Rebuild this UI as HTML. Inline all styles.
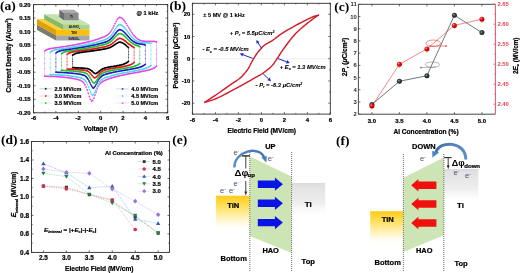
<!DOCTYPE html>
<html><head><meta charset="utf-8"><style>
html,body{margin:0;padding:0;background:#fff;width:520px;height:273px;overflow:hidden}
svg{display:block}
</style></head><body>
<svg width="520" height="273" viewBox="0 0 520 273">
<rect width="520" height="273" fill="#fff"/>
<line x1="156.5" y1="41.92" x2="156.5" y2="66.22" stroke="#e448e4" stroke-width="0.6" opacity="0.6"/>
<line x1="44.7" y1="76.15" x2="44.7" y2="51.03" stroke="#e448e4" stroke-width="0.6" opacity="0.6"/>
<circle cx="156.5" cy="49.21" r="0.55" fill="#e448e4" opacity="0.7"/>
<circle cx="156.5" cy="54.07" r="0.55" fill="#e448e4" opacity="0.7"/>
<circle cx="156.5" cy="58.93" r="0.55" fill="#e448e4" opacity="0.7"/>
<circle cx="44.7" cy="68.61" r="0.55" fill="#e448e4" opacity="0.7"/>
<circle cx="44.7" cy="63.59" r="0.55" fill="#e448e4" opacity="0.7"/>
<circle cx="44.7" cy="58.56" r="0.55" fill="#e448e4" opacity="0.7"/>
<path d="M44.7,51.03 L45.82,50.21 L46.94,49.64 L48.05,49.22 L49.17,48.91 L50.29,48.66 L51.41,48.45 L52.53,48.26 L53.64,48.09 L54.76,47.93 L55.88,47.77 L57,47.61 L58.12,47.45 L59.23,47.29 L60.35,47.13 L61.47,46.97 L62.59,46.8 L63.71,46.64 L64.82,46.47 L65.94,46.29 L67.06,46.11 L68.18,45.93 L69.3,45.75 L70.41,45.56 L71.53,45.37 L72.65,45.17 L73.77,44.97 L74.89,44.76 L76,44.55 L77.12,44.34 L78.24,44.11 L79.36,43.89 L80.48,43.66 L81.59,43.42 L82.71,43.17 L83.83,42.92 L84.95,42.66 L86.07,42.4 L87.18,42.12 L88.3,41.84 L89.42,41.56 L90.54,41.26 L91.66,40.95 L92.77,40.64 L93.89,40.32 L95.01,39.98 L96.13,39.64 L97.25,39.28 L98.36,38.92 L99.48,38.54 L100.6,38.15 L101.72,37.74 L102.84,37.3 L103.95,36.84 L105.07,36.32 L106.19,35.73 L107.31,35.03 L108.43,34.16 L109.54,33.07 L110.66,31.7 L111.78,30.02 L112.9,28.04 L114.02,25.84 L115.13,23.53 L116.25,21.31 L117.37,19.39 L118.49,17.96 L119.61,17.3 L120.72,17.53 L121.84,18.14 L122.96,19.11 L124.08,20.39 L125.2,21.92 L126.31,23.63 L127.43,25.46 L128.55,27.35 L129.67,29.23 L130.79,31.04 L131.9,32.74 L133.02,34.31 L134.14,35.71 L135.26,36.93 L136.38,37.97 L137.49,38.84 L138.61,39.55 L139.73,40.11 L140.85,40.54 L141.97,40.86 L143.08,41.09 L144.2,41.24 L145.32,41.33 L146.44,41.38 L147.56,41.39 L148.67,41.37 L149.79,41.34 L150.91,41.31 L152.03,41.29 L153.15,41.3 L154.26,41.37 L155.38,41.55 L156.5,41.92 M156.5,66.22 L155.38,67.14 L154.26,67.86 L153.15,68.44 L152.03,68.92 L150.91,69.32 L149.79,69.67 L148.67,69.98 L147.56,70.26 L146.44,70.52 L145.32,70.77 L144.2,71 L143.08,71.22 L141.97,71.44 L140.85,71.65 L139.73,71.86 L138.61,72.07 L137.49,72.27 L136.38,72.48 L135.26,72.68 L134.14,72.89 L133.02,73.09 L131.9,73.3 L130.79,73.51 L129.67,73.72 L128.55,73.93 L127.43,74.15 L126.31,74.36 L125.2,74.59 L124.08,74.82 L122.96,75.05 L121.84,75.29 L120.72,75.54 L119.61,75.79 L118.49,76.06 L117.37,76.33 L116.25,76.61 L115.13,76.91 L114.02,77.21 L112.9,77.54 L111.78,77.87 L110.66,78.22 L109.54,78.59 L108.43,78.98 L107.31,79.39 L106.19,79.83 L105.07,80.3 L103.95,80.81 L102.84,81.4 L101.72,82.14 L100.6,83.1 L99.48,84.45 L98.36,86.31 L97.25,88.77 L96.13,91.78 L95.01,95.06 L93.89,98.12 L92.77,100.46 L91.66,101.15 L90.54,99.38 L89.42,96.59 L88.3,93.27 L87.18,89.94 L86.07,87.01 L84.95,84.68 L83.83,82.98 L82.71,81.79 L81.59,80.98 L80.48,80.41 L79.36,79.99 L78.24,79.64 L77.12,79.35 L76,79.08 L74.89,78.83 L73.77,78.61 L72.65,78.4 L71.53,78.21 L70.41,78.03 L69.3,77.87 L68.18,77.71 L67.06,77.57 L65.94,77.44 L64.82,77.32 L63.71,77.21 L62.59,77.1 L61.47,77 L60.35,76.91 L59.23,76.83 L58.12,76.75 L57,76.68 L55.88,76.61 L54.76,76.55 L53.64,76.49 L52.53,76.43 L51.41,76.38 L50.29,76.34 L49.17,76.29 L48.05,76.25 L46.94,76.21 L45.82,76.18 L44.7,76.15" fill="none" stroke="#e448e4" stroke-width="0.6" stroke-linejoin="round" opacity="0.6"/>
<path d="M44.7,51.0h0M45.8,50.2h0M46.9,49.6h0M48.1,49.2h0M49.2,48.9h0M50.3,48.7h0M51.4,48.4h0M52.5,48.3h0M53.6,48.1h0M54.8,47.9h0M55.9,47.8h0M57.0,47.6h0M58.1,47.5h0M59.2,47.3h0M60.4,47.1h0M61.5,47.0h0M62.6,46.8h0M63.7,46.6h0M64.8,46.5h0M65.9,46.3h0M67.1,46.1h0M68.2,45.9h0M69.3,45.7h0M70.4,45.6h0M71.5,45.4h0M72.6,45.2h0M73.8,45.0h0M74.9,44.8h0M76.0,44.6h0M77.1,44.3h0M78.2,44.1h0M79.4,43.9h0M80.5,43.7h0M81.6,43.4h0M82.7,43.2h0M83.8,42.9h0M84.9,42.7h0M86.1,42.4h0M87.2,42.1h0M88.3,41.8h0M89.4,41.6h0M90.5,41.3h0M91.7,41.0h0M92.8,40.6h0M93.9,40.3h0M95.0,40.0h0M96.1,39.6h0M97.2,39.3h0M98.4,38.9h0M99.5,38.5h0M100.6,38.1h0M101.7,37.7h0M102.8,37.3h0M104.0,36.8h0M105.1,36.3h0M106.2,35.7h0M107.3,35.0h0M108.4,34.2h0M109.5,33.1h0M110.7,31.7h0M111.8,30.0h0M112.9,28.0h0M114.0,25.8h0M115.1,23.5h0M116.3,21.3h0M117.4,19.4h0M118.5,18.0h0M119.6,17.3h0M120.7,17.5h0M121.8,18.1h0M123.0,19.1h0M124.1,20.4h0M125.2,21.9h0M126.3,23.6h0M127.4,25.5h0M128.5,27.3h0M129.7,29.2h0M130.8,31.0h0M131.9,32.7h0M133.0,34.3h0M134.1,35.7h0M135.3,36.9h0M136.4,38.0h0M137.5,38.8h0M138.6,39.6h0M139.7,40.1h0M140.8,40.5h0M142.0,40.9h0M143.1,41.1h0M144.2,41.2h0M145.3,41.3h0M146.4,41.4h0M147.6,41.4h0M148.7,41.4h0M149.8,41.3h0M150.9,41.3h0M152.0,41.3h0M153.1,41.3h0M154.3,41.4h0M155.4,41.5h0M156.5,41.9h0M156.5,66.2h0M155.4,67.1h0M154.3,67.9h0M153.1,68.4h0M152.0,68.9h0M150.9,69.3h0M149.8,69.7h0M148.7,70.0h0M147.6,70.3h0M146.4,70.5h0M145.3,70.8h0M144.2,71.0h0M143.1,71.2h0M142.0,71.4h0M140.8,71.7h0M139.7,71.9h0M138.6,72.1h0M137.5,72.3h0M136.4,72.5h0M135.3,72.7h0M134.1,72.9h0M133.0,73.1h0M131.9,73.3h0M130.8,73.5h0M129.7,73.7h0M128.5,73.9h0M127.4,74.1h0M126.3,74.4h0M125.2,74.6h0M124.1,74.8h0M123.0,75.1h0M121.8,75.3h0M120.7,75.5h0M119.6,75.8h0M118.5,76.1h0M117.4,76.3h0M116.3,76.6h0M115.1,76.9h0M114.0,77.2h0M112.9,77.5h0M111.8,77.9h0M110.7,78.2h0M109.5,78.6h0M108.4,79.0h0M107.3,79.4h0M106.2,79.8h0M105.1,80.3h0M104.0,80.8h0M102.8,81.4h0M101.7,82.1h0M100.6,83.1h0M99.5,84.4h0M98.4,86.3h0M97.2,88.8h0M96.1,91.8h0M95.0,95.1h0M93.9,98.1h0M92.8,100.5h0M91.7,101.1h0M90.5,99.4h0M89.4,96.6h0M88.3,93.3h0M87.2,89.9h0M86.1,87.0h0M84.9,84.7h0M83.8,83.0h0M82.7,81.8h0M81.6,81.0h0M80.5,80.4h0M79.4,80.0h0M78.2,79.6h0M77.1,79.3h0M76.0,79.1h0M74.9,78.8h0M73.8,78.6h0M72.6,78.4h0M71.5,78.2h0M70.4,78.0h0M69.3,77.9h0M68.2,77.7h0M67.1,77.6h0M65.9,77.4h0M64.8,77.3h0M63.7,77.2h0M62.6,77.1h0M61.5,77.0h0M60.4,76.9h0M59.2,76.8h0M58.1,76.7h0M57.0,76.7h0M55.9,76.6h0M54.8,76.5h0M53.6,76.5h0M52.5,76.4h0M51.4,76.4h0M50.3,76.3h0M49.2,76.3h0M48.1,76.3h0M46.9,76.2h0M45.8,76.2h0M44.7,76.1h0" fill="none" stroke="#e448e4" stroke-width="1.7" stroke-linecap="round"/>
<line x1="150.91" y1="43.53" x2="150.91" y2="65.4" stroke="#50d8ea" stroke-width="0.6" opacity="0.6"/>
<line x1="50.29" y1="74.59" x2="50.29" y2="52.15" stroke="#50d8ea" stroke-width="0.6" opacity="0.6"/>
<circle cx="150.91" cy="50.09" r="0.55" fill="#50d8ea" opacity="0.7"/>
<circle cx="150.91" cy="54.47" r="0.55" fill="#50d8ea" opacity="0.7"/>
<circle cx="150.91" cy="58.84" r="0.55" fill="#50d8ea" opacity="0.7"/>
<circle cx="50.29" cy="67.86" r="0.55" fill="#50d8ea" opacity="0.7"/>
<circle cx="50.29" cy="63.37" r="0.55" fill="#50d8ea" opacity="0.7"/>
<circle cx="50.29" cy="58.89" r="0.55" fill="#50d8ea" opacity="0.7"/>
<path d="M50.29,52.15 L51.3,51.4 L52.3,50.86 L53.31,50.45 L54.31,50.14 L55.32,49.89 L56.33,49.69 L57.33,49.5 L58.34,49.34 L59.35,49.18 L60.35,49.03 L61.36,48.89 L62.36,48.74 L63.37,48.6 L64.38,48.46 L65.38,48.31 L66.39,48.17 L67.4,48.02 L68.4,47.87 L69.41,47.72 L70.41,47.56 L71.42,47.41 L72.43,47.25 L73.43,47.09 L74.44,46.92 L75.44,46.75 L76.45,46.58 L77.46,46.41 L78.46,46.23 L79.47,46.05 L80.48,45.86 L81.48,45.68 L82.49,45.48 L83.49,45.29 L84.5,45.09 L85.51,44.88 L86.51,44.67 L87.52,44.46 L88.53,44.24 L89.53,44.01 L90.54,43.79 L91.54,43.55 L92.55,43.31 L93.56,43.06 L94.56,42.81 L95.57,42.55 L96.58,42.29 L97.58,42.01 L98.59,41.74 L99.59,41.45 L100.6,41.15 L101.61,40.84 L102.61,40.52 L103.62,40.18 L104.62,39.82 L105.63,39.41 L106.64,38.95 L107.64,38.4 L108.65,37.73 L109.66,36.92 L110.66,35.94 L111.67,34.76 L112.67,33.39 L113.68,31.86 L114.69,30.24 L115.69,28.63 L116.7,27.14 L117.71,25.88 L118.71,24.96 L119.72,24.61 L120.72,24.78 L121.73,25.23 L122.74,25.92 L123.74,26.82 L124.75,27.91 L125.75,29.13 L126.76,30.45 L127.77,31.81 L128.77,33.17 L129.78,34.51 L130.79,35.78 L131.79,36.96 L132.8,38.03 L133.8,38.98 L134.81,39.81 L135.82,40.51 L136.82,41.1 L137.83,41.57 L138.84,41.95 L139.84,42.24 L140.85,42.45 L141.85,42.6 L142.86,42.7 L143.87,42.76 L144.87,42.79 L145.88,42.82 L146.89,42.84 L147.89,42.89 L148.9,42.99 L149.9,43.18 L150.91,43.53 M150.91,65.4 L149.9,66.24 L148.9,66.91 L147.89,67.46 L146.89,67.92 L145.88,68.31 L144.87,68.64 L143.87,68.94 L142.86,69.21 L141.85,69.45 L140.85,69.68 L139.84,69.9 L138.84,70.11 L137.83,70.31 L136.82,70.5 L135.82,70.69 L134.81,70.88 L133.8,71.07 L132.8,71.25 L131.79,71.43 L130.79,71.62 L129.78,71.8 L128.77,71.98 L127.77,72.17 L126.76,72.35 L125.75,72.54 L124.75,72.73 L123.74,72.93 L122.74,73.12 L121.73,73.32 L120.72,73.53 L119.72,73.74 L118.71,73.95 L117.71,74.17 L116.7,74.4 L115.69,74.64 L114.69,74.88 L113.68,75.13 L112.67,75.4 L111.67,75.67 L110.66,75.95 L109.66,76.25 L108.65,76.56 L107.64,76.89 L106.64,77.24 L105.63,77.61 L104.62,78.01 L103.62,78.47 L102.61,79.02 L101.61,79.71 L100.6,80.64 L99.59,81.89 L98.59,83.52 L97.58,85.57 L96.58,87.95 L95.57,90.43 L94.56,92.74 L93.56,94.54 L92.55,95.39 L91.54,94.2 L90.54,92.21 L89.53,89.72 L88.53,87.09 L87.52,84.65 L86.51,82.6 L85.51,81.01 L84.5,79.86 L83.49,79.05 L82.49,78.49 L81.48,78.08 L80.48,77.76 L79.47,77.49 L78.46,77.26 L77.46,77.05 L76.45,76.86 L75.44,76.68 L74.44,76.52 L73.43,76.36 L72.43,76.22 L71.42,76.08 L70.41,75.95 L69.41,75.83 L68.4,75.72 L67.4,75.62 L66.39,75.52 L65.38,75.43 L64.38,75.35 L63.37,75.27 L62.36,75.19 L61.36,75.12 L60.35,75.06 L59.35,74.99 L58.34,74.94 L57.33,74.88 L56.33,74.83 L55.32,74.79 L54.31,74.74 L53.31,74.7 L52.3,74.66 L51.3,74.62 L50.29,74.59" fill="none" stroke="#50d8ea" stroke-width="0.6" stroke-linejoin="round" opacity="0.6"/>
<path d="M50.3,52.2h0M51.3,51.4h0M52.3,50.9h0M53.3,50.5h0M54.3,50.1h0M55.3,49.9h0M56.3,49.7h0M57.3,49.5h0M58.3,49.3h0M59.3,49.2h0M60.4,49.0h0M61.4,48.9h0M62.4,48.7h0M63.4,48.6h0M64.4,48.5h0M65.4,48.3h0M66.4,48.2h0M67.4,48.0h0M68.4,47.9h0M69.4,47.7h0M70.4,47.6h0M71.4,47.4h0M72.4,47.2h0M73.4,47.1h0M74.4,46.9h0M75.4,46.8h0M76.5,46.6h0M77.5,46.4h0M78.5,46.2h0M79.5,46.0h0M80.5,45.9h0M81.5,45.7h0M82.5,45.5h0M83.5,45.3h0M84.5,45.1h0M85.5,44.9h0M86.5,44.7h0M87.5,44.5h0M88.5,44.2h0M89.5,44.0h0M90.5,43.8h0M91.5,43.6h0M92.6,43.3h0M93.6,43.1h0M94.6,42.8h0M95.6,42.6h0M96.6,42.3h0M97.6,42.0h0M98.6,41.7h0M99.6,41.4h0M100.6,41.2h0M101.6,40.8h0M102.6,40.5h0M103.6,40.2h0M104.6,39.8h0M105.6,39.4h0M106.6,38.9h0M107.6,38.4h0M108.6,37.7h0M109.7,36.9h0M110.7,35.9h0M111.7,34.8h0M112.7,33.4h0M113.7,31.9h0M114.7,30.2h0M115.7,28.6h0M116.7,27.1h0M117.7,25.9h0M118.7,25.0h0M119.7,24.6h0M120.7,24.8h0M121.7,25.2h0M122.7,25.9h0M123.7,26.8h0M124.7,27.9h0M125.8,29.1h0M126.8,30.4h0M127.8,31.8h0M128.8,33.2h0M129.8,34.5h0M130.8,35.8h0M131.8,37.0h0M132.8,38.0h0M133.8,39.0h0M134.8,39.8h0M135.8,40.5h0M136.8,41.1h0M137.8,41.6h0M138.8,41.9h0M139.8,42.2h0M140.8,42.4h0M141.9,42.6h0M142.9,42.7h0M143.9,42.8h0M144.9,42.8h0M145.9,42.8h0M146.9,42.8h0M147.9,42.9h0M148.9,43.0h0M149.9,43.2h0M150.9,43.5h0M150.9,65.4h0M149.9,66.2h0M148.9,66.9h0M147.9,67.5h0M146.9,67.9h0M145.9,68.3h0M144.9,68.6h0M143.9,68.9h0M142.9,69.2h0M141.9,69.5h0M140.8,69.7h0M139.8,69.9h0M138.8,70.1h0M137.8,70.3h0M136.8,70.5h0M135.8,70.7h0M134.8,70.9h0M133.8,71.1h0M132.8,71.3h0M131.8,71.4h0M130.8,71.6h0M129.8,71.8h0M128.8,72.0h0M127.8,72.2h0M126.8,72.4h0M125.8,72.5h0M124.7,72.7h0M123.7,72.9h0M122.7,73.1h0M121.7,73.3h0M120.7,73.5h0M119.7,73.7h0M118.7,74.0h0M117.7,74.2h0M116.7,74.4h0M115.7,74.6h0M114.7,74.9h0M113.7,75.1h0M112.7,75.4h0M111.7,75.7h0M110.7,76.0h0M109.7,76.3h0M108.6,76.6h0M107.6,76.9h0M106.6,77.2h0M105.6,77.6h0M104.6,78.0h0M103.6,78.5h0M102.6,79.0h0M101.6,79.7h0M100.6,80.6h0M99.6,81.9h0M98.6,83.5h0M97.6,85.6h0M96.6,87.9h0M95.6,90.4h0M94.6,92.7h0M93.6,94.5h0M92.6,95.4h0M91.5,94.2h0M90.5,92.2h0M89.5,89.7h0M88.5,87.1h0M87.5,84.6h0M86.5,82.6h0M85.5,81.0h0M84.5,79.9h0M83.5,79.1h0M82.5,78.5h0M81.5,78.1h0M80.5,77.8h0M79.5,77.5h0M78.5,77.3h0M77.5,77.1h0M76.5,76.9h0M75.4,76.7h0M74.4,76.5h0M73.4,76.4h0M72.4,76.2h0M71.4,76.1h0M70.4,76.0h0M69.4,75.8h0M68.4,75.7h0M67.4,75.6h0M66.4,75.5h0M65.4,75.4h0M64.4,75.3h0M63.4,75.3h0M62.4,75.2h0M61.4,75.1h0M60.4,75.1h0M59.3,75.0h0M58.3,74.9h0M57.3,74.9h0M56.3,74.8h0M55.3,74.8h0M54.3,74.7h0M53.3,74.7h0M52.3,74.7h0M51.3,74.6h0M50.3,74.6h0" fill="none" stroke="#50d8ea" stroke-width="1.7" stroke-linecap="round"/>
<line x1="145.32" y1="45.08" x2="145.32" y2="64.31" stroke="#1c1cc8" stroke-width="0.6" opacity="0.6"/>
<line x1="55.88" y1="72.19" x2="55.88" y2="52.97" stroke="#1c1cc8" stroke-width="0.6" opacity="0.6"/>
<circle cx="145.32" cy="50.85" r="0.55" fill="#1c1cc8" opacity="0.7"/>
<circle cx="145.32" cy="54.69" r="0.55" fill="#1c1cc8" opacity="0.7"/>
<circle cx="145.32" cy="58.54" r="0.55" fill="#1c1cc8" opacity="0.7"/>
<circle cx="55.88" cy="66.43" r="0.55" fill="#1c1cc8" opacity="0.7"/>
<circle cx="55.88" cy="62.58" r="0.55" fill="#1c1cc8" opacity="0.7"/>
<circle cx="55.88" cy="58.74" r="0.55" fill="#1c1cc8" opacity="0.7"/>
<path d="M55.88,52.97 L56.77,52.29 L57.67,51.78 L58.56,51.39 L59.46,51.08 L60.35,50.84 L61.25,50.63 L62.14,50.45 L63.04,50.29 L63.93,50.14 L64.82,50 L65.72,49.87 L66.61,49.74 L67.51,49.61 L68.4,49.48 L69.3,49.35 L70.19,49.22 L71.08,49.09 L71.98,48.96 L72.87,48.83 L73.77,48.69 L74.66,48.56 L75.56,48.42 L76.45,48.28 L77.35,48.14 L78.24,48 L79.13,47.85 L80.03,47.7 L80.92,47.55 L81.82,47.4 L82.71,47.24 L83.61,47.09 L84.5,46.93 L85.4,46.76 L86.29,46.6 L87.18,46.43 L88.08,46.25 L88.97,46.08 L89.87,45.9 L90.76,45.72 L91.66,45.53 L92.55,45.34 L93.44,45.15 L94.34,44.95 L95.23,44.75 L96.13,44.55 L97.02,44.34 L97.92,44.13 L98.81,43.91 L99.71,43.68 L100.6,43.45 L101.49,43.22 L102.39,42.97 L103.28,42.72 L104.18,42.45 L105.07,42.15 L105.97,41.83 L106.86,41.47 L107.76,41.04 L108.65,40.55 L109.54,39.96 L110.44,39.25 L111.33,38.43 L112.23,37.48 L113.12,36.42 L114.02,35.27 L114.91,34.09 L115.8,32.92 L116.7,31.84 L117.59,30.91 L118.49,30.19 L119.38,29.75 L120.28,29.79 L121.17,30.04 L122.07,30.46 L122.96,31.05 L123.85,31.79 L124.75,32.64 L125.64,33.58 L126.54,34.58 L127.43,35.6 L128.33,36.63 L129.22,37.63 L130.12,38.58 L131.01,39.47 L131.9,40.28 L132.8,41.01 L133.69,41.65 L134.59,42.21 L135.48,42.67 L136.38,43.06 L137.27,43.37 L138.16,43.63 L139.06,43.82 L139.95,43.98 L140.85,44.11 L141.74,44.22 L142.64,44.34 L143.53,44.5 L144.43,44.72 L145.32,45.08 M145.32,64.31 L144.43,65.05 L143.53,65.65 L142.64,66.14 L141.74,66.56 L140.85,66.91 L139.95,67.22 L139.06,67.49 L138.16,67.73 L137.27,67.95 L136.38,68.15 L135.48,68.34 L134.59,68.52 L133.69,68.69 L132.8,68.85 L131.9,69.01 L131.01,69.16 L130.12,69.32 L129.22,69.47 L128.33,69.62 L127.43,69.77 L126.54,69.92 L125.64,70.06 L124.75,70.21 L123.85,70.36 L122.96,70.52 L122.07,70.67 L121.17,70.82 L120.28,70.98 L119.38,71.14 L118.49,71.3 L117.59,71.47 L116.7,71.64 L115.8,71.82 L114.91,72 L114.02,72.18 L113.12,72.37 L112.23,72.57 L111.33,72.78 L110.44,72.99 L109.54,73.21 L108.65,73.44 L107.76,73.69 L106.86,73.94 L105.97,74.21 L105.07,74.51 L104.18,74.85 L103.28,75.24 L102.39,75.73 L101.49,76.36 L100.6,77.17 L99.71,78.22 L98.81,79.52 L97.92,81.05 L97.02,82.75 L96.13,84.48 L95.23,86.07 L94.34,87.34 L93.44,88.17 L92.55,87.5 L91.66,86.24 L90.76,84.56 L89.87,82.7 L88.97,80.86 L88.08,79.23 L87.18,77.89 L86.29,76.85 L85.4,76.09 L84.5,75.55 L83.61,75.16 L82.71,74.87 L81.82,74.64 L80.92,74.44 L80.03,74.28 L79.13,74.12 L78.24,73.98 L77.35,73.85 L76.45,73.72 L75.56,73.6 L74.66,73.49 L73.77,73.39 L72.87,73.29 L71.98,73.2 L71.08,73.11 L70.19,73.03 L69.3,72.95 L68.4,72.88 L67.51,72.81 L66.61,72.74 L65.72,72.68 L64.82,72.62 L63.93,72.57 L63.04,72.52 L62.14,72.47 L61.25,72.42 L60.35,72.38 L59.46,72.34 L58.56,72.3 L57.67,72.26 L56.77,72.23 L55.88,72.19" fill="none" stroke="#1c1cc8" stroke-width="0.6" stroke-linejoin="round" opacity="0.6"/>
<path d="M55.9,53.0h0M56.8,52.3h0M57.7,51.8h0M58.6,51.4h0M59.5,51.1h0M60.4,50.8h0M61.2,50.6h0M62.1,50.4h0M63.0,50.3h0M63.9,50.1h0M64.8,50.0h0M65.7,49.9h0M66.6,49.7h0M67.5,49.6h0M68.4,49.5h0M69.3,49.3h0M70.2,49.2h0M71.1,49.1h0M72.0,49.0h0M72.9,48.8h0M73.8,48.7h0M74.7,48.6h0M75.6,48.4h0M76.5,48.3h0M77.3,48.1h0M78.2,48.0h0M79.1,47.8h0M80.0,47.7h0M80.9,47.6h0M81.8,47.4h0M82.7,47.2h0M83.6,47.1h0M84.5,46.9h0M85.4,46.8h0M86.3,46.6h0M87.2,46.4h0M88.1,46.3h0M89.0,46.1h0M89.9,45.9h0M90.8,45.7h0M91.7,45.5h0M92.6,45.3h0M93.4,45.2h0M94.3,45.0h0M95.2,44.8h0M96.1,44.5h0M97.0,44.3h0M97.9,44.1h0M98.8,43.9h0M99.7,43.7h0M100.6,43.5h0M101.5,43.2h0M102.4,43.0h0M103.3,42.7h0M104.2,42.4h0M105.1,42.2h0M106.0,41.8h0M106.9,41.5h0M107.8,41.0h0M108.6,40.5h0M109.5,40.0h0M110.4,39.3h0M111.3,38.4h0M112.2,37.5h0M113.1,36.4h0M114.0,35.3h0M114.9,34.1h0M115.8,32.9h0M116.7,31.8h0M117.6,30.9h0M118.5,30.2h0M119.4,29.7h0M120.3,29.8h0M121.2,30.0h0M122.1,30.5h0M123.0,31.1h0M123.9,31.8h0M124.7,32.6h0M125.6,33.6h0M126.5,34.6h0M127.4,35.6h0M128.3,36.6h0M129.2,37.6h0M130.1,38.6h0M131.0,39.5h0M131.9,40.3h0M132.8,41.0h0M133.7,41.7h0M134.6,42.2h0M135.5,42.7h0M136.4,43.1h0M137.3,43.4h0M138.2,43.6h0M139.1,43.8h0M140.0,44.0h0M140.8,44.1h0M141.7,44.2h0M142.6,44.3h0M143.5,44.5h0M144.4,44.7h0M145.3,45.1h0M145.3,64.3h0M144.4,65.0h0M143.5,65.6h0M142.6,66.1h0M141.7,66.6h0M140.8,66.9h0M140.0,67.2h0M139.1,67.5h0M138.2,67.7h0M137.3,67.9h0M136.4,68.1h0M135.5,68.3h0M134.6,68.5h0M133.7,68.7h0M132.8,68.8h0M131.9,69.0h0M131.0,69.2h0M130.1,69.3h0M129.2,69.5h0M128.3,69.6h0M127.4,69.8h0M126.5,69.9h0M125.6,70.1h0M124.7,70.2h0M123.9,70.4h0M123.0,70.5h0M122.1,70.7h0M121.2,70.8h0M120.3,71.0h0M119.4,71.1h0M118.5,71.3h0M117.6,71.5h0M116.7,71.6h0M115.8,71.8h0M114.9,72.0h0M114.0,72.2h0M113.1,72.4h0M112.2,72.6h0M111.3,72.8h0M110.4,73.0h0M109.5,73.2h0M108.6,73.4h0M107.8,73.7h0M106.9,73.9h0M106.0,74.2h0M105.1,74.5h0M104.2,74.8h0M103.3,75.2h0M102.4,75.7h0M101.5,76.4h0M100.6,77.2h0M99.7,78.2h0M98.8,79.5h0M97.9,81.1h0M97.0,82.8h0M96.1,84.5h0M95.2,86.1h0M94.3,87.3h0M93.4,88.2h0M92.6,87.5h0M91.7,86.2h0M90.8,84.6h0M89.9,82.7h0M89.0,80.9h0M88.1,79.2h0M87.2,77.9h0M86.3,76.9h0M85.4,76.1h0M84.5,75.5h0M83.6,75.2h0M82.7,74.9h0M81.8,74.6h0M80.9,74.4h0M80.0,74.3h0M79.1,74.1h0M78.2,74.0h0M77.3,73.8h0M76.5,73.7h0M75.6,73.6h0M74.7,73.5h0M73.8,73.4h0M72.9,73.3h0M72.0,73.2h0M71.1,73.1h0M70.2,73.0h0M69.3,73.0h0M68.4,72.9h0M67.5,72.8h0M66.6,72.7h0M65.7,72.7h0M64.8,72.6h0M63.9,72.6h0M63.0,72.5h0M62.1,72.5h0M61.2,72.4h0M60.4,72.4h0M59.5,72.3h0M58.6,72.3h0M57.7,72.3h0M56.8,72.2h0M55.9,72.2h0" fill="none" stroke="#1c1cc8" stroke-width="1.7" stroke-linecap="round"/>
<line x1="139.73" y1="46.66" x2="139.73" y2="63.5" stroke="#22c030" stroke-width="0.6" opacity="0.6"/>
<line x1="61.47" y1="70.37" x2="61.47" y2="53.74" stroke="#22c030" stroke-width="0.6" opacity="0.6"/>
<circle cx="139.73" cy="51.72" r="0.55" fill="#22c030" opacity="0.7"/>
<circle cx="139.73" cy="55.08" r="0.55" fill="#22c030" opacity="0.7"/>
<circle cx="139.73" cy="58.45" r="0.55" fill="#22c030" opacity="0.7"/>
<circle cx="61.47" cy="65.38" r="0.55" fill="#22c030" opacity="0.7"/>
<circle cx="61.47" cy="62.06" r="0.55" fill="#22c030" opacity="0.7"/>
<circle cx="61.47" cy="58.73" r="0.55" fill="#22c030" opacity="0.7"/>
<path d="M61.47,53.74 L62.25,53.13 L63.04,52.65 L63.82,52.29 L64.6,51.99 L65.38,51.75 L66.17,51.54 L66.95,51.37 L67.73,51.21 L68.51,51.07 L69.3,50.94 L70.08,50.81 L70.86,50.69 L71.64,50.58 L72.43,50.46 L73.21,50.35 L73.99,50.23 L74.77,50.12 L75.56,50.01 L76.34,49.89 L77.12,49.78 L77.9,49.66 L78.69,49.54 L79.47,49.42 L80.25,49.3 L81.03,49.18 L81.82,49.06 L82.6,48.93 L83.38,48.8 L84.17,48.68 L84.95,48.55 L85.73,48.41 L86.51,48.28 L87.3,48.14 L88.08,48.01 L88.86,47.87 L89.64,47.72 L90.43,47.58 L91.21,47.43 L91.99,47.28 L92.77,47.13 L93.56,46.98 L94.34,46.82 L95.12,46.66 L95.9,46.5 L96.69,46.34 L97.47,46.17 L98.25,46 L99.03,45.83 L99.82,45.65 L100.6,45.47 L101.38,45.28 L102.17,45.09 L102.95,44.89 L103.73,44.69 L104.51,44.47 L105.3,44.24 L106.08,43.98 L106.86,43.7 L107.64,43.37 L108.43,43.01 L109.21,42.58 L109.99,42.08 L110.77,41.51 L111.56,40.85 L112.34,40.12 L113.12,39.31 L113.9,38.45 L114.69,37.55 L115.47,36.66 L116.25,35.81 L117.03,35.03 L117.82,34.37 L118.6,33.86 L119.38,33.54 L120.16,33.56 L120.95,33.73 L121.73,34.04 L122.51,34.48 L123.3,35.02 L124.08,35.66 L124.86,36.38 L125.64,37.14 L126.43,37.94 L127.21,38.75 L127.99,39.56 L128.77,40.34 L129.56,41.09 L130.34,41.79 L131.12,42.44 L131.9,43.03 L132.69,43.55 L133.47,44.02 L134.25,44.42 L135.03,44.78 L135.82,45.09 L136.6,45.38 L137.38,45.65 L138.16,45.94 L138.95,46.26 L139.73,46.66 M139.73,63.5 L138.95,64.14 L138.16,64.68 L137.38,65.12 L136.6,65.5 L135.82,65.83 L135.03,66.12 L134.25,66.36 L133.47,66.59 L132.69,66.79 L131.9,66.97 L131.12,67.14 L130.34,67.3 L129.56,67.45 L128.77,67.6 L127.99,67.73 L127.21,67.87 L126.43,68 L125.64,68.13 L124.86,68.25 L124.08,68.38 L123.3,68.5 L122.51,68.63 L121.73,68.75 L120.95,68.87 L120.16,69 L119.38,69.13 L118.6,69.26 L117.82,69.39 L117.03,69.52 L116.25,69.65 L115.47,69.79 L114.69,69.93 L113.9,70.07 L113.12,70.22 L112.34,70.37 L111.56,70.53 L110.77,70.69 L109.99,70.86 L109.21,71.03 L108.43,71.21 L107.64,71.4 L106.86,71.6 L106.08,71.82 L105.3,72.05 L104.51,72.32 L103.73,72.63 L102.95,73.01 L102.17,73.48 L101.38,74.07 L100.6,74.81 L99.82,75.7 L99.03,76.76 L98.25,77.94 L97.47,79.2 L96.69,80.44 L95.9,81.58 L95.12,82.52 L94.34,83.19 L93.56,82.99 L92.77,82.18 L91.99,81.05 L91.21,79.71 L90.43,78.31 L89.64,76.98 L88.86,75.81 L88.08,74.84 L87.3,74.09 L86.51,73.52 L85.73,73.11 L84.95,72.8 L84.17,72.57 L83.38,72.38 L82.6,72.23 L81.82,72.1 L81.03,71.97 L80.25,71.86 L79.47,71.76 L78.69,71.66 L77.9,71.56 L77.12,71.47 L76.34,71.39 L75.56,71.31 L74.77,71.23 L73.99,71.16 L73.21,71.09 L72.43,71.02 L71.64,70.96 L70.86,70.9 L70.08,70.84 L69.3,70.79 L68.51,70.74 L67.73,70.69 L66.95,70.64 L66.17,70.6 L65.38,70.55 L64.6,70.51 L63.82,70.48 L63.04,70.44 L62.25,70.41 L61.47,70.37" fill="none" stroke="#22c030" stroke-width="0.6" stroke-linejoin="round" opacity="0.6"/>
<path d="M61.5,53.7h0M62.3,53.1h0M63.0,52.7h0M63.8,52.3h0M64.6,52.0h0M65.4,51.7h0M66.2,51.5h0M66.9,51.4h0M67.7,51.2h0M68.5,51.1h0M69.3,50.9h0M70.1,50.8h0M70.9,50.7h0M71.6,50.6h0M72.4,50.5h0M73.2,50.3h0M74.0,50.2h0M74.8,50.1h0M75.6,50.0h0M76.3,49.9h0M77.1,49.8h0M77.9,49.7h0M78.7,49.5h0M79.5,49.4h0M80.3,49.3h0M81.0,49.2h0M81.8,49.1h0M82.6,48.9h0M83.4,48.8h0M84.2,48.7h0M84.9,48.5h0M85.7,48.4h0M86.5,48.3h0M87.3,48.1h0M88.1,48.0h0M88.9,47.9h0M89.6,47.7h0M90.4,47.6h0M91.2,47.4h0M92.0,47.3h0M92.8,47.1h0M93.6,47.0h0M94.3,46.8h0M95.1,46.7h0M95.9,46.5h0M96.7,46.3h0M97.5,46.2h0M98.3,46.0h0M99.0,45.8h0M99.8,45.6h0M100.6,45.5h0M101.4,45.3h0M102.2,45.1h0M102.9,44.9h0M103.7,44.7h0M104.5,44.5h0M105.3,44.2h0M106.1,44.0h0M106.9,43.7h0M107.6,43.4h0M108.4,43.0h0M109.2,42.6h0M110.0,42.1h0M110.8,41.5h0M111.6,40.9h0M112.3,40.1h0M113.1,39.3h0M113.9,38.4h0M114.7,37.6h0M115.5,36.7h0M116.3,35.8h0M117.0,35.0h0M117.8,34.4h0M118.6,33.9h0M119.4,33.5h0M120.2,33.6h0M120.9,33.7h0M121.7,34.0h0M122.5,34.5h0M123.3,35.0h0M124.1,35.7h0M124.9,36.4h0M125.6,37.1h0M126.4,37.9h0M127.2,38.8h0M128.0,39.6h0M128.8,40.3h0M129.6,41.1h0M130.3,41.8h0M131.1,42.4h0M131.9,43.0h0M132.7,43.6h0M133.5,44.0h0M134.3,44.4h0M135.0,44.8h0M135.8,45.1h0M136.6,45.4h0M137.4,45.7h0M138.2,45.9h0M138.9,46.3h0M139.7,46.7h0M139.7,63.5h0M138.9,64.1h0M138.2,64.7h0M137.4,65.1h0M136.6,65.5h0M135.8,65.8h0M135.0,66.1h0M134.3,66.4h0M133.5,66.6h0M132.7,66.8h0M131.9,67.0h0M131.1,67.1h0M130.3,67.3h0M129.6,67.5h0M128.8,67.6h0M128.0,67.7h0M127.2,67.9h0M126.4,68.0h0M125.6,68.1h0M124.9,68.3h0M124.1,68.4h0M123.3,68.5h0M122.5,68.6h0M121.7,68.7h0M120.9,68.9h0M120.2,69.0h0M119.4,69.1h0M118.6,69.3h0M117.8,69.4h0M117.0,69.5h0M116.3,69.7h0M115.5,69.8h0M114.7,69.9h0M113.9,70.1h0M113.1,70.2h0M112.3,70.4h0M111.6,70.5h0M110.8,70.7h0M110.0,70.9h0M109.2,71.0h0M108.4,71.2h0M107.6,71.4h0M106.9,71.6h0M106.1,71.8h0M105.3,72.1h0M104.5,72.3h0M103.7,72.6h0M102.9,73.0h0M102.2,73.5h0M101.4,74.1h0M100.6,74.8h0M99.8,75.7h0M99.0,76.8h0M98.3,77.9h0M97.5,79.2h0M96.7,80.4h0M95.9,81.6h0M95.1,82.5h0M94.3,83.2h0M93.6,83.0h0M92.8,82.2h0M92.0,81.0h0M91.2,79.7h0M90.4,78.3h0M89.6,77.0h0M88.9,75.8h0M88.1,74.8h0M87.3,74.1h0M86.5,73.5h0M85.7,73.1h0M84.9,72.8h0M84.2,72.6h0M83.4,72.4h0M82.6,72.2h0M81.8,72.1h0M81.0,72.0h0M80.3,71.9h0M79.5,71.8h0M78.7,71.7h0M77.9,71.6h0M77.1,71.5h0M76.3,71.4h0M75.6,71.3h0M74.8,71.2h0M74.0,71.2h0M73.2,71.1h0M72.4,71.0h0M71.6,71.0h0M70.9,70.9h0M70.1,70.8h0M69.3,70.8h0M68.5,70.7h0M67.7,70.7h0M66.9,70.6h0M66.2,70.6h0M65.4,70.6h0M64.6,70.5h0M63.8,70.5h0M63.0,70.4h0M62.3,70.4h0M61.5,70.4h0" fill="none" stroke="#22c030" stroke-width="1.7" stroke-linecap="round"/>
<line x1="134.14" y1="47.7" x2="134.14" y2="62.4" stroke="#e01a1a" stroke-width="0.6" opacity="0.6"/>
<line x1="67.06" y1="69.01" x2="67.06" y2="54.35" stroke="#e01a1a" stroke-width="0.6" opacity="0.6"/>
<circle cx="134.14" cy="52.11" r="0.55" fill="#e01a1a" opacity="0.7"/>
<circle cx="134.14" cy="55.05" r="0.55" fill="#e01a1a" opacity="0.7"/>
<circle cx="134.14" cy="57.99" r="0.55" fill="#e01a1a" opacity="0.7"/>
<circle cx="67.06" cy="64.61" r="0.55" fill="#e01a1a" opacity="0.7"/>
<circle cx="67.06" cy="61.68" r="0.55" fill="#e01a1a" opacity="0.7"/>
<circle cx="67.06" cy="58.75" r="0.55" fill="#e01a1a" opacity="0.7"/>
<path d="M67.06,54.35 L67.73,53.82 L68.4,53.4 L69.07,53.06 L69.74,52.78 L70.41,52.55 L71.08,52.36 L71.76,52.19 L72.43,52.05 L73.1,51.92 L73.77,51.8 L74.44,51.69 L75.11,51.58 L75.78,51.48 L76.45,51.38 L77.12,51.29 L77.79,51.2 L78.46,51.11 L79.13,51.02 L79.81,50.92 L80.48,50.83 L81.15,50.74 L81.82,50.65 L82.49,50.56 L83.16,50.47 L83.83,50.37 L84.5,50.28 L85.17,50.18 L85.84,50.09 L86.51,49.99 L87.18,49.89 L87.85,49.79 L88.53,49.69 L89.2,49.59 L89.87,49.49 L90.54,49.39 L91.21,49.28 L91.88,49.17 L92.55,49.07 L93.22,48.96 L93.89,48.85 L94.56,48.74 L95.23,48.62 L95.9,48.51 L96.58,48.39 L97.25,48.27 L97.92,48.15 L98.59,48.03 L99.26,47.91 L99.93,47.78 L100.6,47.66 L101.27,47.53 L101.94,47.4 L102.61,47.26 L103.28,47.12 L103.95,46.97 L104.62,46.82 L105.3,46.66 L105.97,46.49 L106.64,46.3 L107.31,46.09 L107.98,45.86 L108.65,45.6 L109.32,45.3 L109.99,44.97 L110.66,44.59 L111.33,44.17 L112,43.71 L112.67,43.2 L113.35,42.65 L114.02,42.08 L114.69,41.49 L115.36,40.91 L116.03,40.34 L116.7,39.81 L117.37,39.34 L118.04,38.93 L118.71,38.61 L119.38,38.41 L120.05,38.41 L120.72,38.51 L121.39,38.7 L122.07,38.97 L122.74,39.31 L123.41,39.71 L124.08,40.17 L124.75,40.67 L125.42,41.19 L126.09,41.74 L126.76,42.3 L127.43,42.85 L128.1,43.4 L128.77,43.93 L129.44,44.44 L130.12,44.93 L130.79,45.39 L131.46,45.84 L132.13,46.28 L132.8,46.72 L133.47,47.19 L134.14,47.7 M134.14,62.4 L133.47,62.97 L132.8,63.45 L132.13,63.87 L131.46,64.23 L130.79,64.54 L130.12,64.82 L129.44,65.07 L128.77,65.29 L128.1,65.49 L127.43,65.68 L126.76,65.85 L126.09,66 L125.42,66.15 L124.75,66.29 L124.08,66.42 L123.41,66.55 L122.74,66.68 L122.07,66.79 L121.39,66.91 L120.72,67.03 L120.05,67.14 L119.38,67.25 L118.71,67.36 L118.04,67.47 L117.37,67.58 L116.7,67.69 L116.03,67.8 L115.36,67.91 L114.69,68.02 L114.02,68.13 L113.35,68.24 L112.67,68.36 L112,68.47 L111.33,68.59 L110.66,68.71 L109.99,68.83 L109.32,68.96 L108.65,69.09 L107.98,69.22 L107.31,69.37 L106.64,69.51 L105.97,69.68 L105.3,69.85 L104.62,70.05 L103.95,70.28 L103.28,70.56 L102.61,70.89 L101.94,71.28 L101.27,71.75 L100.6,72.31 L99.93,72.95 L99.26,73.66 L98.59,74.42 L97.92,75.21 L97.25,75.97 L96.58,76.67 L95.9,77.26 L95.23,77.72 L94.56,77.81 L93.89,77.42 L93.22,76.81 L92.55,76.04 L91.88,75.17 L91.21,74.3 L90.54,73.47 L89.87,72.74 L89.2,72.12 L88.53,71.62 L87.85,71.24 L87.18,70.94 L86.51,70.72 L85.84,70.55 L85.17,70.42 L84.5,70.31 L83.83,70.22 L83.16,70.13 L82.49,70.06 L81.82,69.99 L81.15,69.92 L80.48,69.86 L79.81,69.8 L79.13,69.74 L78.46,69.68 L77.79,69.63 L77.12,69.58 L76.45,69.53 L75.78,69.48 L75.11,69.43 L74.44,69.39 L73.77,69.35 L73.1,69.31 L72.43,69.27 L71.76,69.23 L71.08,69.2 L70.41,69.16 L69.74,69.13 L69.07,69.1 L68.4,69.07 L67.73,69.04 L67.06,69.01" fill="none" stroke="#e01a1a" stroke-width="0.6" stroke-linejoin="round" opacity="0.6"/>
<path d="M67.1,54.3h0M67.7,53.8h0M68.4,53.4h0M69.1,53.1h0M69.7,52.8h0M70.4,52.6h0M71.1,52.4h0M71.8,52.2h0M72.4,52.0h0M73.1,51.9h0M73.8,51.8h0M74.4,51.7h0M75.1,51.6h0M75.8,51.5h0M76.5,51.4h0M77.1,51.3h0M77.8,51.2h0M78.5,51.1h0M79.1,51.0h0M79.8,50.9h0M80.5,50.8h0M81.1,50.7h0M81.8,50.7h0M82.5,50.6h0M83.2,50.5h0M83.8,50.4h0M84.5,50.3h0M85.2,50.2h0M85.8,50.1h0M86.5,50.0h0M87.2,49.9h0M87.9,49.8h0M88.5,49.7h0M89.2,49.6h0M89.9,49.5h0M90.5,49.4h0M91.2,49.3h0M91.9,49.2h0M92.6,49.1h0M93.2,49.0h0M93.9,48.8h0M94.6,48.7h0M95.2,48.6h0M95.9,48.5h0M96.6,48.4h0M97.2,48.3h0M97.9,48.2h0M98.6,48.0h0M99.3,47.9h0M99.9,47.8h0M100.6,47.7h0M101.3,47.5h0M101.9,47.4h0M102.6,47.3h0M103.3,47.1h0M104.0,47.0h0M104.6,46.8h0M105.3,46.7h0M106.0,46.5h0M106.6,46.3h0M107.3,46.1h0M108.0,45.9h0M108.6,45.6h0M109.3,45.3h0M110.0,45.0h0M110.7,44.6h0M111.3,44.2h0M112.0,43.7h0M112.7,43.2h0M113.3,42.7h0M114.0,42.1h0M114.7,41.5h0M115.4,40.9h0M116.0,40.3h0M116.7,39.8h0M117.4,39.3h0M118.0,38.9h0M118.7,38.6h0M119.4,38.4h0M120.1,38.4h0M120.7,38.5h0M121.4,38.7h0M122.1,39.0h0M122.7,39.3h0M123.4,39.7h0M124.1,40.2h0M124.7,40.7h0M125.4,41.2h0M126.1,41.7h0M126.8,42.3h0M127.4,42.9h0M128.1,43.4h0M128.8,43.9h0M129.4,44.4h0M130.1,44.9h0M130.8,45.4h0M131.5,45.8h0M132.1,46.3h0M132.8,46.7h0M133.5,47.2h0M134.1,47.7h0M134.1,62.4h0M133.5,63.0h0M132.8,63.5h0M132.1,63.9h0M131.5,64.2h0M130.8,64.5h0M130.1,64.8h0M129.4,65.1h0M128.8,65.3h0M128.1,65.5h0M127.4,65.7h0M126.8,65.8h0M126.1,66.0h0M125.4,66.2h0M124.7,66.3h0M124.1,66.4h0M123.4,66.6h0M122.7,66.7h0M122.1,66.8h0M121.4,66.9h0M120.7,67.0h0M120.1,67.1h0M119.4,67.2h0M118.7,67.4h0M118.0,67.5h0M117.4,67.6h0M116.7,67.7h0M116.0,67.8h0M115.4,67.9h0M114.7,68.0h0M114.0,68.1h0M113.3,68.2h0M112.7,68.4h0M112.0,68.5h0M111.3,68.6h0M110.7,68.7h0M110.0,68.8h0M109.3,69.0h0M108.6,69.1h0M108.0,69.2h0M107.3,69.4h0M106.6,69.5h0M106.0,69.7h0M105.3,69.9h0M104.6,70.1h0M104.0,70.3h0M103.3,70.6h0M102.6,70.9h0M101.9,71.3h0M101.3,71.8h0M100.6,72.3h0M99.9,72.9h0M99.3,73.7h0M98.6,74.4h0M97.9,75.2h0M97.2,76.0h0M96.6,76.7h0M95.9,77.3h0M95.2,77.7h0M94.6,77.8h0M93.9,77.4h0M93.2,76.8h0M92.6,76.0h0M91.9,75.2h0M91.2,74.3h0M90.5,73.5h0M89.9,72.7h0M89.2,72.1h0M88.5,71.6h0M87.9,71.2h0M87.2,70.9h0M86.5,70.7h0M85.8,70.6h0M85.2,70.4h0M84.5,70.3h0M83.8,70.2h0M83.2,70.1h0M82.5,70.1h0M81.8,70.0h0M81.1,69.9h0M80.5,69.9h0M79.8,69.8h0M79.1,69.7h0M78.5,69.7h0M77.8,69.6h0M77.1,69.6h0M76.5,69.5h0M75.8,69.5h0M75.1,69.4h0M74.4,69.4h0M73.8,69.3h0M73.1,69.3h0M72.4,69.3h0M71.8,69.2h0M71.1,69.2h0M70.4,69.2h0M69.7,69.1h0M69.1,69.1h0M68.4,69.1h0M67.7,69.0h0M67.1,69.0h0" fill="none" stroke="#e01a1a" stroke-width="1.7" stroke-linecap="round"/>
<line x1="128.55" y1="47.66" x2="128.55" y2="61.31" stroke="#000000" stroke-width="0.6" opacity="0.6"/>
<line x1="72.65" y1="67.64" x2="72.65" y2="55.19" stroke="#000000" stroke-width="0.6" opacity="0.6"/>
<circle cx="128.55" cy="51.75" r="0.55" fill="#000000" opacity="0.7"/>
<circle cx="128.55" cy="54.49" r="0.55" fill="#000000" opacity="0.7"/>
<circle cx="128.55" cy="57.22" r="0.55" fill="#000000" opacity="0.7"/>
<circle cx="72.65" cy="63.91" r="0.55" fill="#000000" opacity="0.7"/>
<circle cx="72.65" cy="61.42" r="0.55" fill="#000000" opacity="0.7"/>
<circle cx="72.65" cy="58.93" r="0.55" fill="#000000" opacity="0.7"/>
<path d="M72.65,55.19 L73.21,54.75 L73.77,54.38 L74.33,54.07 L74.89,53.82 L75.44,53.6 L76,53.42 L76.56,53.26 L77.12,53.11 L77.68,52.99 L78.24,52.88 L78.8,52.77 L79.36,52.68 L79.92,52.59 L80.48,52.5 L81.03,52.42 L81.59,52.34 L82.15,52.26 L82.71,52.19 L83.27,52.11 L83.83,52.04 L84.39,51.97 L84.95,51.89 L85.51,51.82 L86.07,51.75 L86.62,51.67 L87.18,51.6 L87.74,51.53 L88.3,51.45 L88.86,51.38 L89.42,51.31 L89.98,51.23 L90.54,51.15 L91.1,51.08 L91.66,51 L92.21,50.92 L92.77,50.85 L93.33,50.77 L93.89,50.69 L94.45,50.61 L95.01,50.52 L95.57,50.44 L96.13,50.36 L96.69,50.27 L97.25,50.19 L97.8,50.1 L98.36,50.02 L98.92,49.93 L99.48,49.84 L100.04,49.75 L100.6,49.66 L101.16,49.57 L101.72,49.48 L102.28,49.38 L102.84,49.28 L103.39,49.18 L103.95,49.08 L104.51,48.97 L105.07,48.86 L105.63,48.74 L106.19,48.62 L106.75,48.49 L107.31,48.34 L107.87,48.19 L108.43,48.01 L108.98,47.82 L109.54,47.62 L110.1,47.38 L110.66,47.13 L111.22,46.85 L111.78,46.55 L112.34,46.22 L112.9,45.88 L113.46,45.51 L114.02,45.13 L114.57,44.74 L115.13,44.35 L115.69,43.97 L116.25,43.6 L116.81,43.26 L117.37,42.95 L117.93,42.68 L118.49,42.45 L119.05,42.27 L119.61,42.2 L120.16,42.22 L120.72,42.3 L121.28,42.44 L121.84,42.62 L122.4,42.86 L122.96,43.14 L123.52,43.46 L124.08,43.82 L124.64,44.2 L125.2,44.62 L125.75,45.05 L126.31,45.52 L126.87,46 L127.43,46.51 L127.99,47.06 L128.55,47.66 M128.55,61.31 L127.99,61.8 L127.43,62.23 L126.87,62.6 L126.31,62.94 L125.75,63.24 L125.2,63.51 L124.64,63.75 L124.08,63.97 L123.52,64.17 L122.96,64.35 L122.4,64.52 L121.84,64.68 L121.28,64.83 L120.72,64.97 L120.16,65.1 L119.61,65.22 L119.05,65.34 L118.49,65.46 L117.93,65.57 L117.37,65.68 L116.81,65.78 L116.25,65.88 L115.69,65.98 L115.13,66.08 L114.57,66.18 L114.02,66.28 L113.46,66.37 L112.9,66.46 L112.34,66.56 L111.78,66.65 L111.22,66.75 L110.66,66.84 L110.1,66.94 L109.54,67.03 L108.98,67.13 L108.43,67.23 L107.87,67.33 L107.31,67.44 L106.75,67.55 L106.19,67.66 L105.63,67.79 L105.07,67.93 L104.51,68.09 L103.95,68.27 L103.39,68.47 L102.84,68.71 L102.28,68.98 L101.72,69.29 L101.16,69.64 L100.6,70.03 L100.04,70.46 L99.48,70.91 L98.92,71.37 L98.36,71.84 L97.8,72.29 L97.25,72.7 L96.69,73.06 L96.13,73.35 L95.57,73.58 L95.01,73.42 L94.45,73.14 L93.89,72.75 L93.33,72.28 L92.77,71.76 L92.21,71.24 L91.66,70.74 L91.1,70.27 L90.54,69.87 L89.98,69.53 L89.42,69.25 L88.86,69.03 L88.3,68.86 L87.74,68.72 L87.18,68.62 L86.62,68.53 L86.07,68.46 L85.51,68.41 L84.95,68.35 L84.39,68.31 L83.83,68.26 L83.27,68.22 L82.71,68.18 L82.15,68.14 L81.59,68.1 L81.03,68.06 L80.48,68.03 L79.92,68 L79.36,67.96 L78.8,67.93 L78.24,67.9 L77.68,67.87 L77.12,67.84 L76.56,67.81 L76,67.79 L75.44,67.76 L74.89,67.73 L74.33,67.71 L73.77,67.69 L73.21,67.66 L72.65,67.64" fill="none" stroke="#000000" stroke-width="0.6" stroke-linejoin="round" opacity="0.6"/>
<path d="M72.6,55.2h0M73.2,54.7h0M73.8,54.4h0M74.3,54.1h0M74.9,53.8h0M75.4,53.6h0M76.0,53.4h0M76.6,53.3h0M77.1,53.1h0M77.7,53.0h0M78.2,52.9h0M78.8,52.8h0M79.4,52.7h0M79.9,52.6h0M80.5,52.5h0M81.0,52.4h0M81.6,52.3h0M82.2,52.3h0M82.7,52.2h0M83.3,52.1h0M83.8,52.0h0M84.4,52.0h0M84.9,51.9h0M85.5,51.8h0M86.1,51.7h0M86.6,51.7h0M87.2,51.6h0M87.7,51.5h0M88.3,51.5h0M88.9,51.4h0M89.4,51.3h0M90.0,51.2h0M90.5,51.2h0M91.1,51.1h0M91.7,51.0h0M92.2,50.9h0M92.8,50.8h0M93.3,50.8h0M93.9,50.7h0M94.5,50.6h0M95.0,50.5h0M95.6,50.4h0M96.1,50.4h0M96.7,50.3h0M97.2,50.2h0M97.8,50.1h0M98.4,50.0h0M98.9,49.9h0M99.5,49.8h0M100.0,49.8h0M100.6,49.7h0M101.2,49.6h0M101.7,49.5h0M102.3,49.4h0M102.8,49.3h0M103.4,49.2h0M104.0,49.1h0M104.5,49.0h0M105.1,48.9h0M105.6,48.7h0M106.2,48.6h0M106.7,48.5h0M107.3,48.3h0M107.9,48.2h0M108.4,48.0h0M109.0,47.8h0M109.5,47.6h0M110.1,47.4h0M110.7,47.1h0M111.2,46.9h0M111.8,46.5h0M112.3,46.2h0M112.9,45.9h0M113.5,45.5h0M114.0,45.1h0M114.6,44.7h0M115.1,44.4h0M115.7,44.0h0M116.3,43.6h0M116.8,43.3h0M117.4,43.0h0M117.9,42.7h0M118.5,42.4h0M119.0,42.3h0M119.6,42.2h0M120.2,42.2h0M120.7,42.3h0M121.3,42.4h0M121.8,42.6h0M122.4,42.9h0M123.0,43.1h0M123.5,43.5h0M124.1,43.8h0M124.6,44.2h0M125.2,44.6h0M125.8,45.1h0M126.3,45.5h0M126.9,46.0h0M127.4,46.5h0M128.0,47.1h0M128.5,47.7h0M128.5,61.3h0M128.0,61.8h0M127.4,62.2h0M126.9,62.6h0M126.3,62.9h0M125.8,63.2h0M125.2,63.5h0M124.6,63.7h0M124.1,64.0h0M123.5,64.2h0M123.0,64.4h0M122.4,64.5h0M121.8,64.7h0M121.3,64.8h0M120.7,65.0h0M120.2,65.1h0M119.6,65.2h0M119.0,65.3h0M118.5,65.5h0M117.9,65.6h0M117.4,65.7h0M116.8,65.8h0M116.3,65.9h0M115.7,66.0h0M115.1,66.1h0M114.6,66.2h0M114.0,66.3h0M113.5,66.4h0M112.9,66.5h0M112.3,66.6h0M111.8,66.7h0M111.2,66.7h0M110.7,66.8h0M110.1,66.9h0M109.5,67.0h0M109.0,67.1h0M108.4,67.2h0M107.9,67.3h0M107.3,67.4h0M106.7,67.5h0M106.2,67.7h0M105.6,67.8h0M105.1,67.9h0M104.5,68.1h0M104.0,68.3h0M103.4,68.5h0M102.8,68.7h0M102.3,69.0h0M101.7,69.3h0M101.2,69.6h0M100.6,70.0h0M100.0,70.5h0M99.5,70.9h0M98.9,71.4h0M98.4,71.8h0M97.8,72.3h0M97.2,72.7h0M96.7,73.1h0M96.1,73.4h0M95.6,73.6h0M95.0,73.4h0M94.5,73.1h0M93.9,72.8h0M93.3,72.3h0M92.8,71.8h0M92.2,71.2h0M91.7,70.7h0M91.1,70.3h0M90.5,69.9h0M90.0,69.5h0M89.4,69.3h0M88.9,69.0h0M88.3,68.9h0M87.7,68.7h0M87.2,68.6h0M86.6,68.5h0M86.1,68.5h0M85.5,68.4h0M84.9,68.4h0M84.4,68.3h0M83.8,68.3h0M83.3,68.2h0M82.7,68.2h0M82.2,68.1h0M81.6,68.1h0M81.0,68.1h0M80.5,68.0h0M79.9,68.0h0M79.4,68.0h0M78.8,67.9h0M78.2,67.9h0M77.7,67.9h0M77.1,67.8h0M76.6,67.8h0M76.0,67.8h0M75.4,67.8h0M74.9,67.7h0M74.3,67.7h0M73.8,67.7h0M73.2,67.7h0M72.6,67.6h0" fill="none" stroke="#000000" stroke-width="1.7" stroke-linecap="round"/>
<g>
<polygon points="56,40.6 56,35.3 37,24.8 37,30.1" fill="#7d7a70"/>
<polygon points="56,35.3 89.5,35.3 89.5,40.6 56,40.6" fill="#a9a9a9"/>
<polygon points="56,35.3 56,29.6 37,19.1 37,24.8" fill="#dea200"/>
<polygon points="56,29.6 89.5,29.6 70.5,19.1 37,19.1" fill="#f9cf3a"/>
<polygon points="56,29.6 89.5,29.6 89.5,35.3 56,35.3" fill="#ffc000"/>
<polygon points="63,29.6 63,24.6 44.19,14.21 44.19,19.21" fill="#84b86a"/>
<polygon points="63,24.6 89.5,24.6 70.69,14.21 44.19,14.21" fill="#c3e2ae"/>
<polygon points="63,24.6 89.5,24.6 89.5,29.6 63,29.6" fill="#a8d48c"/>
<polygon points="64,13 64,20.2 59.3,17 59.3,9.8" fill="#6c6c6c"/>
<polygon points="64,13 78.6,13 73.9,9.8 59.3,9.8" fill="#ababab"/>
<polygon points="64,13 78.6,13 78.6,20.2 64,20.2" fill="#8c8c8c"/>
<text x="71.3" y="18.1" font-size="3.2" text-anchor="middle" font-weight="bold" fill="#222" font-family="'Liberation Sans', Arial, sans-serif" stroke="#222" stroke-width="0.1" >Ti</text>
<text x="74.5" y="28.2" font-size="3.3" text-anchor="middle" font-weight="bold" fill="#222" font-family="'Liberation Sans', Arial, sans-serif" stroke="#222" stroke-width="0.1" >Al:HfO<tspan font-size="2.2" dy="0.8">2</tspan></text>
<text x="74" y="33.9" font-size="3.3" text-anchor="middle" font-weight="bold" fill="#222" font-family="'Liberation Sans', Arial, sans-serif" stroke="#222" stroke-width="0.1" >TiN</text>
<text x="74" y="39.5" font-size="3.3" text-anchor="middle" font-weight="bold" fill="#222" font-family="'Liberation Sans', Arial, sans-serif" stroke="#222" stroke-width="0.1" >Si/SiO<tspan font-size="2.2" dy="0.8">2</tspan></text>
</g>
<rect x="33.5" y="4.6" width="134.2" height="108.2" fill="none" stroke="#2e2e2e" stroke-width="0.9"/>
<line x1="33.52" y1="112.8" x2="33.52" y2="110.8" stroke="#2e2e2e" stroke-width="0.7" />
<line x1="33.52" y1="4.6" x2="33.52" y2="6.6" stroke="#2e2e2e" stroke-width="0.7" />
<line x1="44.7" y1="112.8" x2="44.7" y2="111.6" stroke="#2e2e2e" stroke-width="0.7" />
<line x1="44.7" y1="4.6" x2="44.7" y2="5.8" stroke="#2e2e2e" stroke-width="0.7" />
<line x1="55.88" y1="112.8" x2="55.88" y2="110.8" stroke="#2e2e2e" stroke-width="0.7" />
<line x1="55.88" y1="4.6" x2="55.88" y2="6.6" stroke="#2e2e2e" stroke-width="0.7" />
<line x1="67.06" y1="112.8" x2="67.06" y2="111.6" stroke="#2e2e2e" stroke-width="0.7" />
<line x1="67.06" y1="4.6" x2="67.06" y2="5.8" stroke="#2e2e2e" stroke-width="0.7" />
<line x1="78.24" y1="112.8" x2="78.24" y2="110.8" stroke="#2e2e2e" stroke-width="0.7" />
<line x1="78.24" y1="4.6" x2="78.24" y2="6.6" stroke="#2e2e2e" stroke-width="0.7" />
<line x1="89.42" y1="112.8" x2="89.42" y2="111.6" stroke="#2e2e2e" stroke-width="0.7" />
<line x1="89.42" y1="4.6" x2="89.42" y2="5.8" stroke="#2e2e2e" stroke-width="0.7" />
<line x1="100.6" y1="112.8" x2="100.6" y2="110.8" stroke="#2e2e2e" stroke-width="0.7" />
<line x1="100.6" y1="4.6" x2="100.6" y2="6.6" stroke="#2e2e2e" stroke-width="0.7" />
<line x1="111.78" y1="112.8" x2="111.78" y2="111.6" stroke="#2e2e2e" stroke-width="0.7" />
<line x1="111.78" y1="4.6" x2="111.78" y2="5.8" stroke="#2e2e2e" stroke-width="0.7" />
<line x1="122.96" y1="112.8" x2="122.96" y2="110.8" stroke="#2e2e2e" stroke-width="0.7" />
<line x1="122.96" y1="4.6" x2="122.96" y2="6.6" stroke="#2e2e2e" stroke-width="0.7" />
<line x1="134.14" y1="112.8" x2="134.14" y2="111.6" stroke="#2e2e2e" stroke-width="0.7" />
<line x1="134.14" y1="4.6" x2="134.14" y2="5.8" stroke="#2e2e2e" stroke-width="0.7" />
<line x1="145.32" y1="112.8" x2="145.32" y2="110.8" stroke="#2e2e2e" stroke-width="0.7" />
<line x1="145.32" y1="4.6" x2="145.32" y2="6.6" stroke="#2e2e2e" stroke-width="0.7" />
<line x1="156.5" y1="112.8" x2="156.5" y2="111.6" stroke="#2e2e2e" stroke-width="0.7" />
<line x1="156.5" y1="4.6" x2="156.5" y2="5.8" stroke="#2e2e2e" stroke-width="0.7" />
<line x1="167.68" y1="112.8" x2="167.68" y2="110.8" stroke="#2e2e2e" stroke-width="0.7" />
<line x1="167.68" y1="4.6" x2="167.68" y2="6.6" stroke="#2e2e2e" stroke-width="0.7" />
<line x1="33.5" y1="112.8" x2="35.5" y2="112.8" stroke="#2e2e2e" stroke-width="0.7" />
<line x1="167.7" y1="112.8" x2="165.7" y2="112.8" stroke="#2e2e2e" stroke-width="0.7" />
<line x1="33.5" y1="106.04" x2="34.7" y2="106.04" stroke="#2e2e2e" stroke-width="0.7" />
<line x1="167.7" y1="106.04" x2="166.5" y2="106.04" stroke="#2e2e2e" stroke-width="0.7" />
<line x1="33.5" y1="99.28" x2="35.5" y2="99.28" stroke="#2e2e2e" stroke-width="0.7" />
<line x1="167.7" y1="99.28" x2="165.7" y2="99.28" stroke="#2e2e2e" stroke-width="0.7" />
<line x1="33.5" y1="92.51" x2="34.7" y2="92.51" stroke="#2e2e2e" stroke-width="0.7" />
<line x1="167.7" y1="92.51" x2="166.5" y2="92.51" stroke="#2e2e2e" stroke-width="0.7" />
<line x1="33.5" y1="85.75" x2="35.5" y2="85.75" stroke="#2e2e2e" stroke-width="0.7" />
<line x1="167.7" y1="85.75" x2="165.7" y2="85.75" stroke="#2e2e2e" stroke-width="0.7" />
<line x1="33.5" y1="78.99" x2="34.7" y2="78.99" stroke="#2e2e2e" stroke-width="0.7" />
<line x1="167.7" y1="78.99" x2="166.5" y2="78.99" stroke="#2e2e2e" stroke-width="0.7" />
<line x1="33.5" y1="72.23" x2="35.5" y2="72.23" stroke="#2e2e2e" stroke-width="0.7" />
<line x1="167.7" y1="72.23" x2="165.7" y2="72.23" stroke="#2e2e2e" stroke-width="0.7" />
<line x1="33.5" y1="65.46" x2="34.7" y2="65.46" stroke="#2e2e2e" stroke-width="0.7" />
<line x1="167.7" y1="65.46" x2="166.5" y2="65.46" stroke="#2e2e2e" stroke-width="0.7" />
<line x1="33.5" y1="58.7" x2="35.5" y2="58.7" stroke="#2e2e2e" stroke-width="0.7" />
<line x1="167.7" y1="58.7" x2="165.7" y2="58.7" stroke="#2e2e2e" stroke-width="0.7" />
<line x1="33.5" y1="51.94" x2="34.7" y2="51.94" stroke="#2e2e2e" stroke-width="0.7" />
<line x1="167.7" y1="51.94" x2="166.5" y2="51.94" stroke="#2e2e2e" stroke-width="0.7" />
<line x1="33.5" y1="45.18" x2="35.5" y2="45.18" stroke="#2e2e2e" stroke-width="0.7" />
<line x1="167.7" y1="45.18" x2="165.7" y2="45.18" stroke="#2e2e2e" stroke-width="0.7" />
<line x1="33.5" y1="38.41" x2="34.7" y2="38.41" stroke="#2e2e2e" stroke-width="0.7" />
<line x1="167.7" y1="38.41" x2="166.5" y2="38.41" stroke="#2e2e2e" stroke-width="0.7" />
<line x1="33.5" y1="31.65" x2="35.5" y2="31.65" stroke="#2e2e2e" stroke-width="0.7" />
<line x1="167.7" y1="31.65" x2="165.7" y2="31.65" stroke="#2e2e2e" stroke-width="0.7" />
<line x1="33.5" y1="24.89" x2="34.7" y2="24.89" stroke="#2e2e2e" stroke-width="0.7" />
<line x1="167.7" y1="24.89" x2="166.5" y2="24.89" stroke="#2e2e2e" stroke-width="0.7" />
<line x1="33.5" y1="18.12" x2="35.5" y2="18.12" stroke="#2e2e2e" stroke-width="0.7" />
<line x1="167.7" y1="18.12" x2="165.7" y2="18.12" stroke="#2e2e2e" stroke-width="0.7" />
<line x1="33.5" y1="11.36" x2="34.7" y2="11.36" stroke="#2e2e2e" stroke-width="0.7" />
<line x1="167.7" y1="11.36" x2="166.5" y2="11.36" stroke="#2e2e2e" stroke-width="0.7" />
<line x1="33.5" y1="4.6" x2="35.5" y2="4.6" stroke="#2e2e2e" stroke-width="0.7" />
<line x1="167.7" y1="4.6" x2="165.7" y2="4.6" stroke="#2e2e2e" stroke-width="0.7" />
<text x="30.6" y="114.9" font-size="5.9" text-anchor="end" font-weight="bold" fill="#000" font-family="'Liberation Sans', Arial, sans-serif" stroke="#000" stroke-width="0.22" >-0.20</text>
<text x="30.6" y="101.38" font-size="5.9" text-anchor="end" font-weight="bold" fill="#000" font-family="'Liberation Sans', Arial, sans-serif" stroke="#000" stroke-width="0.22" >-0.15</text>
<text x="30.6" y="87.85" font-size="5.9" text-anchor="end" font-weight="bold" fill="#000" font-family="'Liberation Sans', Arial, sans-serif" stroke="#000" stroke-width="0.22" >-0.10</text>
<text x="30.6" y="74.33" font-size="5.9" text-anchor="end" font-weight="bold" fill="#000" font-family="'Liberation Sans', Arial, sans-serif" stroke="#000" stroke-width="0.22" >-0.05</text>
<text x="30.6" y="60.8" font-size="5.9" text-anchor="end" font-weight="bold" fill="#000" font-family="'Liberation Sans', Arial, sans-serif" stroke="#000" stroke-width="0.22" >0.00</text>
<text x="30.6" y="47.28" font-size="5.9" text-anchor="end" font-weight="bold" fill="#000" font-family="'Liberation Sans', Arial, sans-serif" stroke="#000" stroke-width="0.22" >0.05</text>
<text x="30.6" y="33.75" font-size="5.9" text-anchor="end" font-weight="bold" fill="#000" font-family="'Liberation Sans', Arial, sans-serif" stroke="#000" stroke-width="0.22" >0.10</text>
<text x="30.6" y="20.23" font-size="5.9" text-anchor="end" font-weight="bold" fill="#000" font-family="'Liberation Sans', Arial, sans-serif" stroke="#000" stroke-width="0.22" >0.15</text>
<text x="30.6" y="6.7" font-size="5.9" text-anchor="end" font-weight="bold" fill="#000" font-family="'Liberation Sans', Arial, sans-serif" stroke="#000" stroke-width="0.22" >0.20</text>
<text x="33.52" y="120" font-size="5.9" text-anchor="middle" font-weight="bold" fill="#000" font-family="'Liberation Sans', Arial, sans-serif" stroke="#000" stroke-width="0.22" >-6</text>
<text x="55.88" y="120" font-size="5.9" text-anchor="middle" font-weight="bold" fill="#000" font-family="'Liberation Sans', Arial, sans-serif" stroke="#000" stroke-width="0.22" >-4</text>
<text x="78.24" y="120" font-size="5.9" text-anchor="middle" font-weight="bold" fill="#000" font-family="'Liberation Sans', Arial, sans-serif" stroke="#000" stroke-width="0.22" >-2</text>
<text x="100.6" y="120" font-size="5.9" text-anchor="middle" font-weight="bold" fill="#000" font-family="'Liberation Sans', Arial, sans-serif" stroke="#000" stroke-width="0.22" >0</text>
<text x="122.96" y="120" font-size="5.9" text-anchor="middle" font-weight="bold" fill="#000" font-family="'Liberation Sans', Arial, sans-serif" stroke="#000" stroke-width="0.22" >2</text>
<text x="145.32" y="120" font-size="5.9" text-anchor="middle" font-weight="bold" fill="#000" font-family="'Liberation Sans', Arial, sans-serif" stroke="#000" stroke-width="0.22" >4</text>
<text x="167.68" y="120" font-size="5.9" text-anchor="middle" font-weight="bold" fill="#000" font-family="'Liberation Sans', Arial, sans-serif" stroke="#000" stroke-width="0.22" >6</text>
<text x="100.7" y="131" font-size="6.6" text-anchor="middle" font-weight="bold" fill="#000" font-family="'Liberation Sans', Arial, sans-serif" stroke="#000" stroke-width="0.22" >Voltage (V)</text>
<text transform="translate(10.7,55.4) rotate(-90)" font-size="6.6" text-anchor="middle" font-weight="bold" fill="#000" font-family="'Liberation Sans', Arial, sans-serif" stroke="#000" stroke-width="0.22">Current Density (A/cm<tspan font-size="4.2" dy="-2.4">2</tspan><tspan dy="2.4">)</tspan></text>
<text x="136.6" y="15.3" font-size="5.6" text-anchor="start" font-weight="bold" fill="#000" font-family="'Liberation Sans', Arial, sans-serif" stroke="#000" stroke-width="0.18" >@ 1 kHz</text>
<line x1="39.4" y1="88.8" x2="51.9" y2="88.8" stroke="#000000" stroke-width="0.5" opacity="0.35"/>
<circle cx="45.7" cy="88.8" r="0.95" fill="#000000" opacity="0.85"/>
<text x="54.4" y="90.8" font-size="5.5" text-anchor="start" font-weight="bold" fill="#000" font-family="'Liberation Sans', Arial, sans-serif" stroke="#000" stroke-width="0.2" >2.5 MV/cm</text>
<line x1="39.4" y1="96" x2="51.9" y2="96" stroke="#e01a1a" stroke-width="0.5" opacity="0.35"/>
<circle cx="45.7" cy="96" r="0.95" fill="#e01a1a" opacity="0.85"/>
<text x="54.4" y="98" font-size="5.5" text-anchor="start" font-weight="bold" fill="#000" font-family="'Liberation Sans', Arial, sans-serif" stroke="#000" stroke-width="0.2" >3.0 MV/cm</text>
<line x1="39.4" y1="103" x2="51.9" y2="103" stroke="#22c030" stroke-width="0.5" opacity="0.35"/>
<circle cx="45.7" cy="103" r="0.95" fill="#22c030" opacity="0.85"/>
<text x="54.4" y="105" font-size="5.5" text-anchor="start" font-weight="bold" fill="#000" font-family="'Liberation Sans', Arial, sans-serif" stroke="#000" stroke-width="0.2" >3.5 MV/cm</text>
<line x1="116.3" y1="88.9" x2="128.8" y2="88.9" stroke="#1c1cc8" stroke-width="0.5" opacity="0.35"/>
<circle cx="122.6" cy="88.9" r="0.95" fill="#1c1cc8" opacity="0.85"/>
<text x="131.3" y="90.9" font-size="5.5" text-anchor="start" font-weight="bold" fill="#000" font-family="'Liberation Sans', Arial, sans-serif" stroke="#000" stroke-width="0.2" >4.0 MV/cm</text>
<line x1="116.3" y1="96" x2="128.8" y2="96" stroke="#50d8ea" stroke-width="0.5" opacity="0.35"/>
<circle cx="122.6" cy="96" r="0.95" fill="#50d8ea" opacity="0.85"/>
<text x="131.3" y="98" font-size="5.5" text-anchor="start" font-weight="bold" fill="#000" font-family="'Liberation Sans', Arial, sans-serif" stroke="#000" stroke-width="0.2" >4.5 MV/cm</text>
<line x1="116.3" y1="103.1" x2="128.8" y2="103.1" stroke="#e448e4" stroke-width="0.5" opacity="0.35"/>
<circle cx="122.6" cy="103.1" r="0.95" fill="#e448e4" opacity="0.85"/>
<text x="131.3" y="105.1" font-size="5.5" text-anchor="start" font-weight="bold" fill="#000" font-family="'Liberation Sans', Arial, sans-serif" stroke="#000" stroke-width="0.2" >5.0 MV/cm</text>
<text x="0.1" y="10.3" font-size="13.5" text-anchor="start" font-weight="bold" fill="#000" font-family="'Liberation Serif', 'Times New Roman', serif" >(a)</text>
<line x1="192.4" y1="58.75" x2="330.3" y2="58.75" stroke="#e6e6e6" stroke-width="0.6" />
<path d="M318.8,14.98 L318.18,15.16 L317.37,15.37 L316.39,15.64 L315.25,15.99 L313.98,16.43 L312.6,16.98 L311.12,17.62 L309.54,18.33 L307.83,19.13 L305.96,20.05 L303.88,21.1 L301.57,22.31 L298.85,23.76 L295.72,25.45 L292.39,27.28 L289.07,29.14 L285.97,30.92 L283.3,32.53 L281.09,33.97 L279.18,35.34 L277.49,36.64 L275.95,37.86 L274.46,39.01 L272.95,40.09 L271.44,41.04 L269.98,41.88 L268.59,42.64 L267.26,43.38 L265.99,44.14 L264.8,44.97 L263.7,45.86 L262.69,46.75 L261.76,47.67 L260.86,48.63 L259.97,49.65 L259.05,50.75 L258.12,51.93 L257.19,53.19 L256.27,54.5 L255.35,55.87 L254.44,57.29 L253.54,58.75 L252.63,60.32 L251.73,62.03 L250.83,63.78 L249.95,65.5 L249.08,67.11 L248.25,68.53 L247.46,69.74 L246.7,70.8 L245.97,71.75 L245.24,72.63 L244.51,73.46 L243.77,74.3 L243.07,75.09 L242.45,75.79 L241.82,76.46 L241.12,77.13 L240.26,77.88 L239.17,78.75 L237.84,79.73 L236.31,80.78 L234.63,81.9 L232.83,83.09 L230.97,84.33 L229.06,85.64 L227.08,87.04 L224.98,88.56 L222.8,90.14 L220.6,91.73 L218.42,93.28 L216.31,94.75 L214.13,96.21 L211.82,97.73 L209.54,99.2 L207.43,100.56 L205.65,101.69 L204.36,102.52" fill="none" stroke="#d41c2a" stroke-width="1.45" stroke-linejoin="round"/>
<path d="M204.36,102.52 L205.65,102.12 L207.43,101.58 L209.54,100.93 L211.82,100.19 L214.13,99.38 L216.31,98.52 L218.38,97.6 L220.46,96.6 L222.56,95.52 L224.7,94.4 L226.86,93.25 L229.06,92.08 L231.33,90.88 L233.66,89.63 L236.02,88.34 L238.38,87.05 L240.71,85.77 L242.97,84.53 L245.21,83.28 L247.47,82.02 L249.69,80.76 L251.83,79.55 L253.82,78.43 L255.61,77.41 L257.13,76.57 L258.41,75.88 L259.55,75.28 L260.64,74.67 L261.74,74 L262.96,73.19 L264.32,72.23 L265.75,71.18 L267.21,70.05 L268.64,68.89 L270,67.7 L271.23,66.53 L272.3,65.37 L273.24,64.22 L274.1,63.06 L274.94,61.84 L275.81,60.57 L276.75,59.19 L277.71,57.76 L278.65,56.29 L279.61,54.75 L280.65,53.11 L281.83,51.35 L283.18,49.42 L284.77,47.23 L286.56,44.78 L288.47,42.21 L290.45,39.63 L292.43,37.18 L294.33,34.97 L296.18,33.02 L298.05,31.21 L299.91,29.52 L301.74,27.93 L303.52,26.42 L305.24,24.98 L306.93,23.57 L308.61,22.24 L310.25,20.98 L311.79,19.82 L313.2,18.77 L314.43,17.87 L315.49,17.11 L316.41,16.48 L317.19,15.98 L317.85,15.57 L318.38,15.24 L318.8,14.98" fill="none" stroke="#d41c2a" stroke-width="1.45" stroke-linejoin="round"/>
<rect x="192.4" y="3.3" width="137.9" height="110.8" fill="none" stroke="#2e2e2e" stroke-width="0.9"/>
<line x1="192.41" y1="114.1" x2="192.41" y2="112.1" stroke="#2e2e2e" stroke-width="0.7" />
<line x1="192.41" y1="3.3" x2="192.41" y2="5.3" stroke="#2e2e2e" stroke-width="0.7" />
<line x1="203.9" y1="114.1" x2="203.9" y2="112.9" stroke="#2e2e2e" stroke-width="0.7" />
<line x1="203.9" y1="3.3" x2="203.9" y2="4.5" stroke="#2e2e2e" stroke-width="0.7" />
<line x1="215.39" y1="114.1" x2="215.39" y2="112.1" stroke="#2e2e2e" stroke-width="0.7" />
<line x1="215.39" y1="3.3" x2="215.39" y2="5.3" stroke="#2e2e2e" stroke-width="0.7" />
<line x1="226.88" y1="114.1" x2="226.88" y2="112.9" stroke="#2e2e2e" stroke-width="0.7" />
<line x1="226.88" y1="3.3" x2="226.88" y2="4.5" stroke="#2e2e2e" stroke-width="0.7" />
<line x1="238.37" y1="114.1" x2="238.37" y2="112.1" stroke="#2e2e2e" stroke-width="0.7" />
<line x1="238.37" y1="3.3" x2="238.37" y2="5.3" stroke="#2e2e2e" stroke-width="0.7" />
<line x1="249.86" y1="114.1" x2="249.86" y2="112.9" stroke="#2e2e2e" stroke-width="0.7" />
<line x1="249.86" y1="3.3" x2="249.86" y2="4.5" stroke="#2e2e2e" stroke-width="0.7" />
<line x1="261.35" y1="114.1" x2="261.35" y2="112.1" stroke="#2e2e2e" stroke-width="0.7" />
<line x1="261.35" y1="3.3" x2="261.35" y2="5.3" stroke="#2e2e2e" stroke-width="0.7" />
<line x1="272.84" y1="114.1" x2="272.84" y2="112.9" stroke="#2e2e2e" stroke-width="0.7" />
<line x1="272.84" y1="3.3" x2="272.84" y2="4.5" stroke="#2e2e2e" stroke-width="0.7" />
<line x1="284.33" y1="114.1" x2="284.33" y2="112.1" stroke="#2e2e2e" stroke-width="0.7" />
<line x1="284.33" y1="3.3" x2="284.33" y2="5.3" stroke="#2e2e2e" stroke-width="0.7" />
<line x1="295.82" y1="114.1" x2="295.82" y2="112.9" stroke="#2e2e2e" stroke-width="0.7" />
<line x1="295.82" y1="3.3" x2="295.82" y2="4.5" stroke="#2e2e2e" stroke-width="0.7" />
<line x1="307.31" y1="114.1" x2="307.31" y2="112.1" stroke="#2e2e2e" stroke-width="0.7" />
<line x1="307.31" y1="3.3" x2="307.31" y2="5.3" stroke="#2e2e2e" stroke-width="0.7" />
<line x1="318.8" y1="114.1" x2="318.8" y2="112.9" stroke="#2e2e2e" stroke-width="0.7" />
<line x1="318.8" y1="3.3" x2="318.8" y2="4.5" stroke="#2e2e2e" stroke-width="0.7" />
<line x1="330.29" y1="114.1" x2="330.29" y2="112.1" stroke="#2e2e2e" stroke-width="0.7" />
<line x1="330.29" y1="3.3" x2="330.29" y2="5.3" stroke="#2e2e2e" stroke-width="0.7" />
<line x1="192.4" y1="114.3" x2="193.6" y2="114.3" stroke="#2e2e2e" stroke-width="0.7" />
<line x1="330.3" y1="114.3" x2="329.1" y2="114.3" stroke="#2e2e2e" stroke-width="0.7" />
<line x1="192.4" y1="103.19" x2="194.4" y2="103.19" stroke="#2e2e2e" stroke-width="0.7" />
<line x1="330.3" y1="103.19" x2="328.3" y2="103.19" stroke="#2e2e2e" stroke-width="0.7" />
<line x1="192.4" y1="92.08" x2="193.6" y2="92.08" stroke="#2e2e2e" stroke-width="0.7" />
<line x1="330.3" y1="92.08" x2="329.1" y2="92.08" stroke="#2e2e2e" stroke-width="0.7" />
<line x1="192.4" y1="80.97" x2="194.4" y2="80.97" stroke="#2e2e2e" stroke-width="0.7" />
<line x1="330.3" y1="80.97" x2="328.3" y2="80.97" stroke="#2e2e2e" stroke-width="0.7" />
<line x1="192.4" y1="69.86" x2="193.6" y2="69.86" stroke="#2e2e2e" stroke-width="0.7" />
<line x1="330.3" y1="69.86" x2="329.1" y2="69.86" stroke="#2e2e2e" stroke-width="0.7" />
<line x1="192.4" y1="58.75" x2="194.4" y2="58.75" stroke="#2e2e2e" stroke-width="0.7" />
<line x1="330.3" y1="58.75" x2="328.3" y2="58.75" stroke="#2e2e2e" stroke-width="0.7" />
<line x1="192.4" y1="47.64" x2="193.6" y2="47.64" stroke="#2e2e2e" stroke-width="0.7" />
<line x1="330.3" y1="47.64" x2="329.1" y2="47.64" stroke="#2e2e2e" stroke-width="0.7" />
<line x1="192.4" y1="36.53" x2="194.4" y2="36.53" stroke="#2e2e2e" stroke-width="0.7" />
<line x1="330.3" y1="36.53" x2="328.3" y2="36.53" stroke="#2e2e2e" stroke-width="0.7" />
<line x1="192.4" y1="25.42" x2="193.6" y2="25.42" stroke="#2e2e2e" stroke-width="0.7" />
<line x1="330.3" y1="25.42" x2="329.1" y2="25.42" stroke="#2e2e2e" stroke-width="0.7" />
<line x1="192.4" y1="14.31" x2="194.4" y2="14.31" stroke="#2e2e2e" stroke-width="0.7" />
<line x1="330.3" y1="14.31" x2="328.3" y2="14.31" stroke="#2e2e2e" stroke-width="0.7" />
<line x1="192.4" y1="3.2" x2="193.6" y2="3.2" stroke="#2e2e2e" stroke-width="0.7" />
<line x1="330.3" y1="3.2" x2="329.1" y2="3.2" stroke="#2e2e2e" stroke-width="0.7" />
<text x="190.2" y="105.29" font-size="5.9" text-anchor="end" font-weight="bold" fill="#000" font-family="'Liberation Sans', Arial, sans-serif" stroke="#000" stroke-width="0.22" >-20</text>
<text x="190.2" y="83.07" font-size="5.9" text-anchor="end" font-weight="bold" fill="#000" font-family="'Liberation Sans', Arial, sans-serif" stroke="#000" stroke-width="0.22" >-10</text>
<text x="190.2" y="60.85" font-size="5.9" text-anchor="end" font-weight="bold" fill="#000" font-family="'Liberation Sans', Arial, sans-serif" stroke="#000" stroke-width="0.22" >0</text>
<text x="190.2" y="38.63" font-size="5.9" text-anchor="end" font-weight="bold" fill="#000" font-family="'Liberation Sans', Arial, sans-serif" stroke="#000" stroke-width="0.22" >10</text>
<text x="190.2" y="16.41" font-size="5.9" text-anchor="end" font-weight="bold" fill="#000" font-family="'Liberation Sans', Arial, sans-serif" stroke="#000" stroke-width="0.22" >20</text>
<text x="192.41" y="121.9" font-size="5.9" text-anchor="middle" font-weight="bold" fill="#000" font-family="'Liberation Sans', Arial, sans-serif" stroke="#000" stroke-width="0.22" >-6</text>
<text x="215.39" y="121.9" font-size="5.9" text-anchor="middle" font-weight="bold" fill="#000" font-family="'Liberation Sans', Arial, sans-serif" stroke="#000" stroke-width="0.22" >-4</text>
<text x="238.37" y="121.9" font-size="5.9" text-anchor="middle" font-weight="bold" fill="#000" font-family="'Liberation Sans', Arial, sans-serif" stroke="#000" stroke-width="0.22" >-2</text>
<text x="261.35" y="121.9" font-size="5.9" text-anchor="middle" font-weight="bold" fill="#000" font-family="'Liberation Sans', Arial, sans-serif" stroke="#000" stroke-width="0.22" >0</text>
<text x="284.33" y="121.9" font-size="5.9" text-anchor="middle" font-weight="bold" fill="#000" font-family="'Liberation Sans', Arial, sans-serif" stroke="#000" stroke-width="0.22" >2</text>
<text x="307.31" y="121.9" font-size="5.9" text-anchor="middle" font-weight="bold" fill="#000" font-family="'Liberation Sans', Arial, sans-serif" stroke="#000" stroke-width="0.22" >4</text>
<text x="330.29" y="121.9" font-size="5.9" text-anchor="middle" font-weight="bold" fill="#000" font-family="'Liberation Sans', Arial, sans-serif" stroke="#000" stroke-width="0.22" >6</text>
<text x="261.8" y="132.6" font-size="6.6" text-anchor="middle" font-weight="bold" fill="#000" font-family="'Liberation Sans', Arial, sans-serif" stroke="#000" stroke-width="0.22" >Electric Field (MV/cm)</text>
<text transform="translate(177.9,55.5) rotate(-90)" font-size="6.6" text-anchor="middle" font-weight="bold" fill="#000" font-family="'Liberation Sans', Arial, sans-serif" stroke="#000" stroke-width="0.22">Polarization (<tspan font-style="italic">μ</tspan>C/cm<tspan font-size="4.2" dy="-2.4">2</tspan><tspan dy="2.4">)</tspan></text>
<text x="203.2" y="17" font-size="5.7" text-anchor="start" font-weight="bold" fill="#000" font-family="'Liberation Sans', Arial, sans-serif" stroke="#000" stroke-width="0.12" >± 5 MV @ 1 kHz</text>
<line x1="261.6" y1="48.4" x2="258.11" y2="42.88" stroke="#1428c8" stroke-width="1.0" />
<polygon points="256.3,40 259.64,41.91 256.59,43.84" fill="#1428c8"/>
<line x1="252.6" y1="58.3" x2="242.99" y2="54.77" stroke="#1428c8" stroke-width="1.0" />
<polygon points="239.8,53.6 243.61,53.08 242.37,56.46" fill="#1428c8"/>
<line x1="278.1" y1="58.6" x2="286.62" y2="61.8" stroke="#1428c8" stroke-width="1.0" />
<polygon points="289.8,63 285.98,63.49 287.25,60.12" fill="#1428c8"/>
<line x1="263.2" y1="73.9" x2="268.52" y2="78.88" stroke="#1428c8" stroke-width="1.0" />
<polygon points="271,81.2 267.29,80.19 269.75,77.56" fill="#1428c8"/>
<text x="229.8" y="35.2" font-size="5.8" text-anchor="start" font-weight="bold" fill="#000" font-family="'Liberation Sans', Arial, sans-serif" stroke="#000" stroke-width="0.1" >+ <tspan font-style="italic">P</tspan><tspan font-size="3.6" dy="1.2" font-style="italic">r</tspan><tspan dy="-1.2" font-style="italic"> = 5.5μC/cm</tspan><tspan font-size="3.6" dy="-2.2" font-style="italic">2</tspan></text>
<text x="202.4" y="51.4" font-size="5.8" text-anchor="start" font-weight="bold" fill="#000" font-family="'Liberation Sans', Arial, sans-serif" stroke="#000" stroke-width="0.1" >- <tspan font-style="italic">E</tspan><tspan font-size="3.6" dy="1.2" font-style="italic">c</tspan><tspan dy="-1.2" font-style="italic"> = -0.5 MV/cm</tspan></text>
<text x="279.8" y="68.9" font-size="5.8" text-anchor="start" font-weight="bold" fill="#000" font-family="'Liberation Sans', Arial, sans-serif" stroke="#000" stroke-width="0.1" >+ <tspan font-style="italic">E</tspan><tspan font-size="3.6" dy="1.2" font-style="italic">c</tspan><tspan dy="-1.2" font-style="italic"> = 1.3 MV/cm</tspan></text>
<text x="255.6" y="86.8" font-size="5.8" text-anchor="start" font-weight="bold" fill="#000" font-family="'Liberation Sans', Arial, sans-serif" stroke="#000" stroke-width="0.1" >- <tspan font-style="italic">P</tspan><tspan font-size="3.6" dy="1.2" font-style="italic">r</tspan><tspan dy="-1.2" font-style="italic"> = -6.3 μC/cm</tspan><tspan font-size="3.6" dy="-2.2" font-style="italic">2</tspan></text>
<text x="169.5" y="10.2" font-size="13.5" text-anchor="start" font-weight="bold" fill="#000" font-family="'Liberation Serif', 'Times New Roman', serif" >(b)</text>
<defs><radialGradient id="gr" cx="0.35" cy="0.35" r="0.7"><stop offset="0" stop-color="#ffb0b0"/><stop offset="0.35" stop-color="#f01010"/><stop offset="1" stop-color="#a00000"/></radialGradient><radialGradient id="gk" cx="0.4" cy="0.4" r="0.65"><stop offset="0" stop-color="#b8d0d0"/><stop offset="0.3" stop-color="#404848"/><stop offset="1" stop-color="#141818"/></radialGradient><linearGradient id="gtin" x1="0" y1="0" x2="0" y2="1"><stop offset="0" stop-color="#ffcc18"/><stop offset="0.3" stop-color="#ffe060"/><stop offset="0.65" stop-color="#fff4c4"/><stop offset="1" stop-color="#ffffff" stop-opacity="0"/></linearGradient><linearGradient id="gti" x1="0" y1="0" x2="0" y2="1"><stop offset="0" stop-color="#dadada"/><stop offset="0.12" stop-color="#e3e3e3"/><stop offset="0.6" stop-color="#eeeeee"/><stop offset="1" stop-color="#ffffff" stop-opacity="0"/></linearGradient><linearGradient id="garc" x1="0" y1="0" x2="1" y2="0"><stop offset="0" stop-color="#5b8cc6"/><stop offset="1" stop-color="#3f72b0"/></linearGradient><linearGradient id="garc2" x1="1" y1="0" x2="0" y2="0"><stop offset="0" stop-color="#5b8cc6"/><stop offset="1" stop-color="#3f72b0"/></linearGradient></defs>
<polyline points="371.9,104.5 399.4,81.3 426.9,75.7 454.4,15.3 481.9,32.6" fill="none" stroke="#465858" stroke-width="0.8"/>
<polyline points="371.9,106 399.4,64.3 426.9,48.9 454.4,25.4 481.9,19.2" fill="none" stroke="#f03a3a" stroke-width="0.6"/>
<ellipse cx="433.2" cy="43.3" rx="7.3" ry="3.3" fill="none" stroke="#e02020" stroke-width="0.5"/>
<line x1="429" y1="46" x2="445.3" y2="46" stroke="#e02020" stroke-width="0.5" />
<polygon points="447.5,46 445.3,47.1 445.3,44.9" fill="#e02020"/>
<ellipse cx="432.4" cy="64.6" rx="7.2" ry="2.6" fill="none" stroke="#707070" stroke-width="0.5"/>
<line x1="436" y1="67.2" x2="421.7" y2="67.55" stroke="#707070" stroke-width="0.5" />
<polygon points="419.5,67.6 421.67,66.45 421.73,68.65" fill="#707070"/>
<circle cx="371.9" cy="104.5" r="2.5" fill="url(#gk)"/>
<circle cx="399.4" cy="81.3" r="2.5" fill="url(#gk)"/>
<circle cx="426.9" cy="75.7" r="2.5" fill="url(#gk)"/>
<circle cx="454.4" cy="15.3" r="2.5" fill="url(#gk)"/>
<circle cx="481.9" cy="32.6" r="2.5" fill="url(#gk)"/>
<line x1="371.9" y1="108.5" x2="371.9" y2="109.8" stroke="#e02020" stroke-width="0.5" />
<circle cx="371.9" cy="106" r="2.5" fill="url(#gr)"/>
<line x1="399.4" y1="66.8" x2="399.4" y2="68.1" stroke="#e02020" stroke-width="0.5" />
<circle cx="399.4" cy="64.3" r="2.5" fill="url(#gr)"/>
<line x1="426.9" y1="51.4" x2="426.9" y2="52.7" stroke="#e02020" stroke-width="0.5" />
<circle cx="426.9" cy="48.9" r="2.5" fill="url(#gr)"/>
<line x1="454.4" y1="27.9" x2="454.4" y2="29.2" stroke="#e02020" stroke-width="0.5" />
<circle cx="454.4" cy="25.4" r="2.5" fill="url(#gr)"/>
<line x1="481.9" y1="21.7" x2="481.9" y2="23" stroke="#e02020" stroke-width="0.5" />
<circle cx="481.9" cy="19.2" r="2.5" fill="url(#gr)"/>
<line x1="358.4" y1="4.3" x2="495.4" y2="4.3" stroke="#333" stroke-width="0.9" />
<line x1="358.4" y1="4.3" x2="358.4" y2="114.2" stroke="#333" stroke-width="0.9" />
<line x1="358.4" y1="114.2" x2="495.4" y2="114.2" stroke="#333" stroke-width="0.9" />
<line x1="495.4" y1="4.3" x2="495.4" y2="114.2" stroke="#e04050" stroke-width="0.9" />
<line x1="371.9" y1="114.2" x2="371.9" y2="112.2" stroke="#2e2e2e" stroke-width="0.7" />
<line x1="371.9" y1="4.3" x2="371.9" y2="6.3" stroke="#2e2e2e" stroke-width="0.7" />
<text x="371.9" y="122.9" font-size="5.9" text-anchor="middle" font-weight="bold" fill="#000" font-family="'Liberation Sans', Arial, sans-serif" stroke="#000" stroke-width="0.22" >3.0</text>
<line x1="399.4" y1="114.2" x2="399.4" y2="112.2" stroke="#2e2e2e" stroke-width="0.7" />
<line x1="399.4" y1="4.3" x2="399.4" y2="6.3" stroke="#2e2e2e" stroke-width="0.7" />
<text x="399.4" y="122.9" font-size="5.9" text-anchor="middle" font-weight="bold" fill="#000" font-family="'Liberation Sans', Arial, sans-serif" stroke="#000" stroke-width="0.22" >3.5</text>
<line x1="426.9" y1="114.2" x2="426.9" y2="112.2" stroke="#2e2e2e" stroke-width="0.7" />
<line x1="426.9" y1="4.3" x2="426.9" y2="6.3" stroke="#2e2e2e" stroke-width="0.7" />
<text x="426.9" y="122.9" font-size="5.9" text-anchor="middle" font-weight="bold" fill="#000" font-family="'Liberation Sans', Arial, sans-serif" stroke="#000" stroke-width="0.22" >4.0</text>
<line x1="454.4" y1="114.2" x2="454.4" y2="112.2" stroke="#2e2e2e" stroke-width="0.7" />
<line x1="454.4" y1="4.3" x2="454.4" y2="6.3" stroke="#2e2e2e" stroke-width="0.7" />
<text x="454.4" y="122.9" font-size="5.9" text-anchor="middle" font-weight="bold" fill="#000" font-family="'Liberation Sans', Arial, sans-serif" stroke="#000" stroke-width="0.22" >4.5</text>
<line x1="481.9" y1="114.2" x2="481.9" y2="112.2" stroke="#2e2e2e" stroke-width="0.7" />
<line x1="481.9" y1="4.3" x2="481.9" y2="6.3" stroke="#2e2e2e" stroke-width="0.7" />
<text x="481.9" y="122.9" font-size="5.9" text-anchor="middle" font-weight="bold" fill="#000" font-family="'Liberation Sans', Arial, sans-serif" stroke="#000" stroke-width="0.22" >5.0</text>
<line x1="358.4" y1="114.2" x2="360.4" y2="114.2" stroke="#2e2e2e" stroke-width="0.7" />
<text x="356.7" y="116.3" font-size="5.9" text-anchor="end" font-weight="bold" fill="#2a2a2a" font-family="'Liberation Sans', Arial, sans-serif" >2</text>
<line x1="358.4" y1="101.99" x2="360.4" y2="101.99" stroke="#2e2e2e" stroke-width="0.7" />
<text x="356.7" y="104.09" font-size="5.9" text-anchor="end" font-weight="bold" fill="#2a2a2a" font-family="'Liberation Sans', Arial, sans-serif" >3</text>
<line x1="358.4" y1="89.78" x2="360.4" y2="89.78" stroke="#2e2e2e" stroke-width="0.7" />
<text x="356.7" y="91.88" font-size="5.9" text-anchor="end" font-weight="bold" fill="#2a2a2a" font-family="'Liberation Sans', Arial, sans-serif" >4</text>
<line x1="358.4" y1="77.57" x2="360.4" y2="77.57" stroke="#2e2e2e" stroke-width="0.7" />
<text x="356.7" y="79.67" font-size="5.9" text-anchor="end" font-weight="bold" fill="#2a2a2a" font-family="'Liberation Sans', Arial, sans-serif" >5</text>
<line x1="358.4" y1="65.36" x2="360.4" y2="65.36" stroke="#2e2e2e" stroke-width="0.7" />
<text x="356.7" y="67.46" font-size="5.9" text-anchor="end" font-weight="bold" fill="#2a2a2a" font-family="'Liberation Sans', Arial, sans-serif" >6</text>
<line x1="358.4" y1="53.15" x2="360.4" y2="53.15" stroke="#2e2e2e" stroke-width="0.7" />
<text x="356.7" y="55.25" font-size="5.9" text-anchor="end" font-weight="bold" fill="#2a2a2a" font-family="'Liberation Sans', Arial, sans-serif" >7</text>
<line x1="358.4" y1="40.94" x2="360.4" y2="40.94" stroke="#2e2e2e" stroke-width="0.7" />
<text x="356.7" y="43.04" font-size="5.9" text-anchor="end" font-weight="bold" fill="#2a2a2a" font-family="'Liberation Sans', Arial, sans-serif" >8</text>
<line x1="358.4" y1="28.73" x2="360.4" y2="28.73" stroke="#2e2e2e" stroke-width="0.7" />
<text x="356.7" y="30.83" font-size="5.9" text-anchor="end" font-weight="bold" fill="#2a2a2a" font-family="'Liberation Sans', Arial, sans-serif" >9</text>
<line x1="358.4" y1="16.52" x2="360.4" y2="16.52" stroke="#2e2e2e" stroke-width="0.7" />
<text x="356.7" y="18.62" font-size="5.9" text-anchor="end" font-weight="bold" fill="#2a2a2a" font-family="'Liberation Sans', Arial, sans-serif" >10</text>
<line x1="358.4" y1="4.31" x2="360.4" y2="4.31" stroke="#2e2e2e" stroke-width="0.7" />
<text x="356.7" y="6.41" font-size="5.9" text-anchor="end" font-weight="bold" fill="#2a2a2a" font-family="'Liberation Sans', Arial, sans-serif" >11</text>
<line x1="495.4" y1="104.2" x2="493.4" y2="104.2" stroke="#e04050" stroke-width="0.7" />
<text x="497.4" y="106.3" font-size="5.9" text-anchor="start" font-weight="bold" fill="#e8404e" font-family="'Liberation Sans', Arial, sans-serif" >2.40</text>
<line x1="495.4" y1="84.2" x2="493.4" y2="84.2" stroke="#e04050" stroke-width="0.7" />
<text x="497.4" y="86.3" font-size="5.9" text-anchor="start" font-weight="bold" fill="#e8404e" font-family="'Liberation Sans', Arial, sans-serif" >2.45</text>
<line x1="495.4" y1="64.2" x2="493.4" y2="64.2" stroke="#e04050" stroke-width="0.7" />
<text x="497.4" y="66.3" font-size="5.9" text-anchor="start" font-weight="bold" fill="#e8404e" font-family="'Liberation Sans', Arial, sans-serif" >2.50</text>
<line x1="495.4" y1="44.2" x2="493.4" y2="44.2" stroke="#e04050" stroke-width="0.7" />
<text x="497.4" y="46.3" font-size="5.9" text-anchor="start" font-weight="bold" fill="#e8404e" font-family="'Liberation Sans', Arial, sans-serif" >2.55</text>
<line x1="495.4" y1="24.2" x2="493.4" y2="24.2" stroke="#e04050" stroke-width="0.7" />
<text x="497.4" y="26.3" font-size="5.9" text-anchor="start" font-weight="bold" fill="#e8404e" font-family="'Liberation Sans', Arial, sans-serif" >2.60</text>
<line x1="495.4" y1="4.2" x2="493.4" y2="4.2" stroke="#e04050" stroke-width="0.7" />
<text x="497.4" y="6.3" font-size="5.9" text-anchor="start" font-weight="bold" fill="#e8404e" font-family="'Liberation Sans', Arial, sans-serif" >2.65</text>
<line x1="495.4" y1="94.2" x2="494.2" y2="94.2" stroke="#e04050" stroke-width="0.6" />
<line x1="495.4" y1="74.2" x2="494.2" y2="74.2" stroke="#e04050" stroke-width="0.6" />
<line x1="495.4" y1="54.2" x2="494.2" y2="54.2" stroke="#e04050" stroke-width="0.6" />
<line x1="495.4" y1="34.2" x2="494.2" y2="34.2" stroke="#e04050" stroke-width="0.6" />
<line x1="495.4" y1="14.2" x2="494.2" y2="14.2" stroke="#e04050" stroke-width="0.6" />
<text x="426" y="134" font-size="6.6" text-anchor="middle" font-weight="bold" fill="#000" font-family="'Liberation Sans', Arial, sans-serif" stroke="#000" stroke-width="0.22" >Al Concentration (%)</text>
<text transform="translate(347.2,57) rotate(-90)" font-size="6.6" text-anchor="middle" font-weight="bold" fill="#000" font-family="'Liberation Sans', Arial, sans-serif" stroke="#000" stroke-width="0.22">2<tspan font-style="italic">P</tspan><tspan font-size="4.2" dy="1.4">r</tspan><tspan dy="-1.4"> (</tspan><tspan font-style="italic">μ</tspan>C/cm<tspan font-size="4.2" dy="-2.4">2</tspan><tspan dy="2.4">)</tspan></text>
<text transform="translate(518,55.8) rotate(-90)" font-size="6.3" text-anchor="middle" font-weight="bold" fill="#000" font-family="'Liberation Sans', Arial, sans-serif" stroke="#000" stroke-width="0.22">2<tspan font-style="italic">E</tspan><tspan font-size="4.2" dy="1.4">c</tspan><tspan dy="-1.4"> (MV/cm)</tspan></text>
<text x="334.2" y="11.3" font-size="13.5" text-anchor="start" font-weight="bold" fill="#000" font-family="'Liberation Serif', 'Times New Roman', serif" >(c)</text>
<polyline points="43.4,186.1 66.35,187.3 89.3,194.6 112.25,200.6 135.2,216.9 158.15,233.2" fill="none" stroke="#a0a0a0" stroke-width="0.7" stroke-dasharray="1,0.8"/>
<polyline points="43.4,186.1 66.35,188.8 112.25,199.8 135.2,229.5" fill="none" stroke="#f29aa6" stroke-width="0.7" stroke-dasharray="1,0.8"/>
<polyline points="43.4,163.7 66.35,172.8 89.3,187.6 112.25,186.2 135.2,219.1 158.15,223.5" fill="none" stroke="#8cb0e4" stroke-width="0.7" stroke-dasharray="1,0.8"/>
<polyline points="43.4,173.4 66.35,176.6 89.3,194.4 112.25,203.1 135.2,215.4 158.15,232.8" fill="none" stroke="#8ccca8" stroke-width="0.7" stroke-dasharray="1,0.8"/>
<polyline points="43.4,168.9 66.35,172.3 89.3,173.3 112.25,188.9 135.2,201.2 158.15,214.7" fill="none" stroke="#c8b6f2" stroke-width="0.7" stroke-dasharray="1,0.8"/>
<rect x="41.84" y="184.54" width="3.12" height="3.12" fill="#333333"/>
<rect x="64.79" y="185.74" width="3.12" height="3.12" fill="#333333"/>
<rect x="87.74" y="193.04" width="3.12" height="3.12" fill="#333333"/>
<rect x="110.69" y="199.04" width="3.12" height="3.12" fill="#333333"/>
<rect x="133.64" y="215.34" width="3.12" height="3.12" fill="#333333"/>
<rect x="156.59" y="231.64" width="3.12" height="3.12" fill="#333333"/>
<circle cx="43.4" cy="186.1" r="1.85" fill="#d83048"/>
<circle cx="66.35" cy="188.8" r="1.85" fill="#d83048"/>
<circle cx="112.25" cy="199.8" r="1.85" fill="#d83048"/>
<circle cx="135.2" cy="229.5" r="1.85" fill="#d83048"/>
<polygon points="43.4,161.55 45.55,165.26 41.25,165.26" fill="#2858b8"/>
<polygon points="66.35,170.66 68.49,174.36 64.2,174.36" fill="#2858b8"/>
<polygon points="89.3,185.45 91.44,189.16 87.16,189.16" fill="#2858b8"/>
<polygon points="112.25,184.05 114.39,187.76 110.11,187.76" fill="#2858b8"/>
<polygon points="135.2,216.95 137.34,220.66 133.05,220.66" fill="#2858b8"/>
<polygon points="158.15,221.35 160.3,225.06 156,225.06" fill="#2858b8"/>
<polygon points="43.4,175.55 45.55,171.84 41.25,171.84" fill="#248048"/>
<polygon points="66.35,178.75 68.49,175.04 64.2,175.04" fill="#248048"/>
<polygon points="89.3,196.55 91.44,192.84 87.16,192.84" fill="#248048"/>
<polygon points="112.25,205.25 114.39,201.54 110.11,201.54" fill="#248048"/>
<polygon points="135.2,217.55 137.34,213.84 133.05,213.84" fill="#248048"/>
<polygon points="158.15,234.95 160.3,231.24 156,231.24" fill="#248048"/>
<polygon points="43.4,166.56 45.55,168.9 43.4,171.24 41.25,168.9" fill="#9a70dc"/>
<polygon points="66.35,169.96 68.49,172.3 66.35,174.64 64.2,172.3" fill="#9a70dc"/>
<polygon points="89.3,170.96 91.44,173.3 89.3,175.64 87.16,173.3" fill="#9a70dc"/>
<polygon points="112.25,186.56 114.39,188.9 112.25,191.24 110.11,188.9" fill="#9a70dc"/>
<polygon points="135.2,198.86 137.34,201.2 135.2,203.54 133.05,201.2" fill="#9a70dc"/>
<polygon points="158.15,212.36 160.3,214.7 158.15,217.04 156,214.7" fill="#9a70dc"/>
<rect x="31.5" y="141.5" width="138" height="110.9" fill="none" stroke="#2e2e2e" stroke-width="0.9"/>
<line x1="43.4" y1="252.4" x2="43.4" y2="250.4" stroke="#2e2e2e" stroke-width="0.7" />
<line x1="43.4" y1="141.5" x2="43.4" y2="143.5" stroke="#2e2e2e" stroke-width="0.7" />
<text x="43.4" y="259.6" font-size="6.4" text-anchor="middle" font-weight="bold" fill="#000" font-family="'Liberation Sans', Arial, sans-serif" stroke="#000" stroke-width="0.22" >2.5</text>
<line x1="66.35" y1="252.4" x2="66.35" y2="250.4" stroke="#2e2e2e" stroke-width="0.7" />
<line x1="66.35" y1="141.5" x2="66.35" y2="143.5" stroke="#2e2e2e" stroke-width="0.7" />
<text x="66.35" y="259.6" font-size="6.4" text-anchor="middle" font-weight="bold" fill="#000" font-family="'Liberation Sans', Arial, sans-serif" stroke="#000" stroke-width="0.22" >3.0</text>
<line x1="89.3" y1="252.4" x2="89.3" y2="250.4" stroke="#2e2e2e" stroke-width="0.7" />
<line x1="89.3" y1="141.5" x2="89.3" y2="143.5" stroke="#2e2e2e" stroke-width="0.7" />
<text x="89.3" y="259.6" font-size="6.4" text-anchor="middle" font-weight="bold" fill="#000" font-family="'Liberation Sans', Arial, sans-serif" stroke="#000" stroke-width="0.22" >3.5</text>
<line x1="112.25" y1="252.4" x2="112.25" y2="250.4" stroke="#2e2e2e" stroke-width="0.7" />
<line x1="112.25" y1="141.5" x2="112.25" y2="143.5" stroke="#2e2e2e" stroke-width="0.7" />
<text x="112.25" y="259.6" font-size="6.4" text-anchor="middle" font-weight="bold" fill="#000" font-family="'Liberation Sans', Arial, sans-serif" stroke="#000" stroke-width="0.22" >4.0</text>
<line x1="135.2" y1="252.4" x2="135.2" y2="250.4" stroke="#2e2e2e" stroke-width="0.7" />
<line x1="135.2" y1="141.5" x2="135.2" y2="143.5" stroke="#2e2e2e" stroke-width="0.7" />
<text x="135.2" y="259.6" font-size="6.4" text-anchor="middle" font-weight="bold" fill="#000" font-family="'Liberation Sans', Arial, sans-serif" stroke="#000" stroke-width="0.22" >4.5</text>
<line x1="158.15" y1="252.4" x2="158.15" y2="250.4" stroke="#2e2e2e" stroke-width="0.7" />
<line x1="158.15" y1="141.5" x2="158.15" y2="143.5" stroke="#2e2e2e" stroke-width="0.7" />
<text x="158.15" y="259.6" font-size="6.4" text-anchor="middle" font-weight="bold" fill="#000" font-family="'Liberation Sans', Arial, sans-serif" stroke="#000" stroke-width="0.22" >5.0</text>
<line x1="31.5" y1="252.38" x2="33.5" y2="252.38" stroke="#2e2e2e" stroke-width="0.7" />
<line x1="169.5" y1="252.38" x2="167.5" y2="252.38" stroke="#2e2e2e" stroke-width="0.7" />
<line x1="31.5" y1="243.14" x2="32.7" y2="243.14" stroke="#2e2e2e" stroke-width="0.7" />
<line x1="169.5" y1="243.14" x2="168.3" y2="243.14" stroke="#2e2e2e" stroke-width="0.7" />
<line x1="31.5" y1="233.9" x2="33.5" y2="233.9" stroke="#2e2e2e" stroke-width="0.7" />
<line x1="169.5" y1="233.9" x2="167.5" y2="233.9" stroke="#2e2e2e" stroke-width="0.7" />
<line x1="31.5" y1="224.66" x2="32.7" y2="224.66" stroke="#2e2e2e" stroke-width="0.7" />
<line x1="169.5" y1="224.66" x2="168.3" y2="224.66" stroke="#2e2e2e" stroke-width="0.7" />
<line x1="31.5" y1="215.42" x2="33.5" y2="215.42" stroke="#2e2e2e" stroke-width="0.7" />
<line x1="169.5" y1="215.42" x2="167.5" y2="215.42" stroke="#2e2e2e" stroke-width="0.7" />
<line x1="31.5" y1="206.18" x2="32.7" y2="206.18" stroke="#2e2e2e" stroke-width="0.7" />
<line x1="169.5" y1="206.18" x2="168.3" y2="206.18" stroke="#2e2e2e" stroke-width="0.7" />
<line x1="31.5" y1="196.94" x2="33.5" y2="196.94" stroke="#2e2e2e" stroke-width="0.7" />
<line x1="169.5" y1="196.94" x2="167.5" y2="196.94" stroke="#2e2e2e" stroke-width="0.7" />
<line x1="31.5" y1="187.7" x2="32.7" y2="187.7" stroke="#2e2e2e" stroke-width="0.7" />
<line x1="169.5" y1="187.7" x2="168.3" y2="187.7" stroke="#2e2e2e" stroke-width="0.7" />
<line x1="31.5" y1="178.46" x2="33.5" y2="178.46" stroke="#2e2e2e" stroke-width="0.7" />
<line x1="169.5" y1="178.46" x2="167.5" y2="178.46" stroke="#2e2e2e" stroke-width="0.7" />
<line x1="31.5" y1="169.22" x2="32.7" y2="169.22" stroke="#2e2e2e" stroke-width="0.7" />
<line x1="169.5" y1="169.22" x2="168.3" y2="169.22" stroke="#2e2e2e" stroke-width="0.7" />
<line x1="31.5" y1="159.98" x2="33.5" y2="159.98" stroke="#2e2e2e" stroke-width="0.7" />
<line x1="169.5" y1="159.98" x2="167.5" y2="159.98" stroke="#2e2e2e" stroke-width="0.7" />
<line x1="31.5" y1="150.74" x2="32.7" y2="150.74" stroke="#2e2e2e" stroke-width="0.7" />
<line x1="169.5" y1="150.74" x2="168.3" y2="150.74" stroke="#2e2e2e" stroke-width="0.7" />
<line x1="31.5" y1="141.5" x2="33.5" y2="141.5" stroke="#2e2e2e" stroke-width="0.7" />
<line x1="169.5" y1="141.5" x2="167.5" y2="141.5" stroke="#2e2e2e" stroke-width="0.7" />
<text x="29" y="254.68" font-size="6.4" text-anchor="end" font-weight="bold" fill="#000" font-family="'Liberation Sans', Arial, sans-serif" stroke="#000" stroke-width="0.22" >0.4</text>
<text x="29" y="236.2" font-size="6.4" text-anchor="end" font-weight="bold" fill="#000" font-family="'Liberation Sans', Arial, sans-serif" stroke="#000" stroke-width="0.22" >0.6</text>
<text x="29" y="217.72" font-size="6.4" text-anchor="end" font-weight="bold" fill="#000" font-family="'Liberation Sans', Arial, sans-serif" stroke="#000" stroke-width="0.22" >0.8</text>
<text x="29" y="199.24" font-size="6.4" text-anchor="end" font-weight="bold" fill="#000" font-family="'Liberation Sans', Arial, sans-serif" stroke="#000" stroke-width="0.22" >1.0</text>
<text x="29" y="180.76" font-size="6.4" text-anchor="end" font-weight="bold" fill="#000" font-family="'Liberation Sans', Arial, sans-serif" stroke="#000" stroke-width="0.22" >1.2</text>
<text x="29" y="162.28" font-size="6.4" text-anchor="end" font-weight="bold" fill="#000" font-family="'Liberation Sans', Arial, sans-serif" stroke="#000" stroke-width="0.22" >1.4</text>
<text x="29" y="143.8" font-size="6.4" text-anchor="end" font-weight="bold" fill="#000" font-family="'Liberation Sans', Arial, sans-serif" stroke="#000" stroke-width="0.22" >1.6</text>
<text x="99.3" y="271.2" font-size="6.6" text-anchor="middle" font-weight="bold" fill="#000" font-family="'Liberation Sans', Arial, sans-serif" stroke="#000" stroke-width="0.22" >Electric Field (MV/cm)</text>
<text transform="translate(16.2,194.5) rotate(-90)" font-size="6.6" text-anchor="middle" font-weight="bold" fill="#000" font-family="'Liberation Sans', Arial, sans-serif" stroke="#000" stroke-width="0.22"><tspan font-style="italic">E</tspan><tspan font-size="3.8" dy="1.4">internal</tspan><tspan dy="-1.4"> (MV/cm)</tspan></text>
<text x="105" y="155" font-size="5.85" text-anchor="start" font-weight="bold" fill="#000" font-family="'Liberation Sans', Arial, sans-serif" stroke="#000" stroke-width="0.22" >Al Concentration (%)</text>
<line x1="138.5" y1="161.6" x2="149.8" y2="161.6" stroke="#a0a0a0" stroke-width="0.7" stroke-dasharray="1,0.8"/>
<rect x="142.76" y="160.16" width="2.88" height="2.88" fill="#333333"/>
<text x="152.6" y="163.8" font-size="6.0" text-anchor="start" font-weight="bold" fill="#000" font-family="'Liberation Sans', Arial, sans-serif" stroke="#000" stroke-width="0.22" >5.0</text>
<line x1="138.5" y1="169" x2="149.8" y2="169" stroke="#f29aa6" stroke-width="0.7" stroke-dasharray="1,0.8"/>
<circle cx="144.2" cy="169" r="1.71" fill="#d83048"/>
<text x="152.6" y="171.2" font-size="6.0" text-anchor="start" font-weight="bold" fill="#000" font-family="'Liberation Sans', Arial, sans-serif" stroke="#000" stroke-width="0.22" >4.5</text>
<line x1="138.5" y1="176.4" x2="149.8" y2="176.4" stroke="#8cb0e4" stroke-width="0.7" stroke-dasharray="1,0.8"/>
<polygon points="144.2,174.42 146.18,177.84 142.22,177.84" fill="#2858b8"/>
<text x="152.6" y="178.6" font-size="6.0" text-anchor="start" font-weight="bold" fill="#000" font-family="'Liberation Sans', Arial, sans-serif" stroke="#000" stroke-width="0.22" >4.0</text>
<line x1="138.5" y1="183.8" x2="149.8" y2="183.8" stroke="#8ccca8" stroke-width="0.7" stroke-dasharray="1,0.8"/>
<polygon points="144.2,185.78 146.18,182.36 142.22,182.36" fill="#248048"/>
<text x="152.6" y="186" font-size="6.0" text-anchor="start" font-weight="bold" fill="#000" font-family="'Liberation Sans', Arial, sans-serif" stroke="#000" stroke-width="0.22" >3.5</text>
<line x1="138.5" y1="191.2" x2="149.8" y2="191.2" stroke="#c8b6f2" stroke-width="0.7" stroke-dasharray="1,0.8"/>
<polygon points="144.2,189.04 146.18,191.2 144.2,193.36 142.22,191.2" fill="#9a70dc"/>
<text x="152.6" y="193.4" font-size="6.0" text-anchor="start" font-weight="bold" fill="#000" font-family="'Liberation Sans', Arial, sans-serif" stroke="#000" stroke-width="0.22" >3.0</text>
<text x="44" y="231.5" font-size="6.1" text-anchor="start" font-weight="bold" fill="#000" font-family="'Liberation Sans', Arial, sans-serif" stroke="#000" stroke-width="0.22" letter-spacing="0.08"><tspan font-style="italic">E</tspan><tspan font-size="3.6" dy="1.3" font-style="italic">internal</tspan><tspan dy="-1.3"> = |+</tspan><tspan font-style="italic">E</tspan><tspan font-size="3.6" dy="1.3">c</tspan><tspan dy="-1.3">|-|-</tspan><tspan font-style="italic">E</tspan><tspan font-size="3.6" dy="1.3">c</tspan><tspan dy="-1.3">|</tspan></text>
<text x="0.9" y="143.9" font-size="13.5" text-anchor="start" font-weight="bold" fill="#000" font-family="'Liberation Serif', 'Times New Roman', serif" >(d)</text>
<rect x="216" y="195.7" width="33.8" height="36" fill="url(#gtin)"/>
<rect x="291.6" y="183" width="33.6" height="34" fill="url(#gti)"/>
<polygon points="249.8,156.5 291.6,176.5 291.6,253 249.8,236" fill="#cde5b5"/>
<line x1="249.8" y1="152" x2="249.8" y2="272" stroke="#5e5e5e" stroke-width="0.9" stroke-dasharray="1,1"/>
<line x1="291.6" y1="152" x2="291.6" y2="272" stroke="#5e5e5e" stroke-width="0.9" stroke-dasharray="1,1"/>
<polygon points="257.8,180.5 274.9,180.5 274.9,177.6 282.9,184.2 274.9,190.8 274.9,187.9 257.8,187.9" fill="#0a14e6"/>
<polygon points="257.8,199.6 274.9,199.6 274.9,196.7 282.9,203.3 274.9,209.9 274.9,207 257.8,207" fill="#0a14e6"/>
<polygon points="257.8,218.9 274.9,218.9 274.9,216 282.9,222.6 274.9,229.2 274.9,226.3 257.8,226.3" fill="#0a14e6"/>
<path d="M234.4,167.5 C233.8,151 260,145 264.2,157.8" fill="none" stroke="url(#garc)" stroke-width="2.5"/>
<polygon points="266.4,162.4 261.4,157.6 266.8,156.0" fill="#4a7cb8"/>
<line x1="241.9" y1="155.9" x2="249.9" y2="155.9" stroke="#2a2a2a" stroke-width="1.4" />
<line x1="245.8" y1="156" x2="245.8" y2="168.5" stroke="#2a2a2a" stroke-width="0.9" />
<line x1="245.8" y1="181" x2="245.8" y2="192.5" stroke="#2a2a2a" stroke-width="0.9" />
<polygon points="245.8,195.5 244.4,191.6 247.2,191.6" fill="#2a2a2a"/>
<text x="234.6" y="176" font-size="9.6" text-anchor="start" font-weight="bold" fill="#000" font-family="'Liberation Sans', Arial, sans-serif" >Δφ</text>
<text x="247.6" y="176.5" font-size="6.0" text-anchor="start" font-weight="bold" fill="#000" font-family="'Liberation Sans', Arial, sans-serif" stroke="#000" stroke-width="0.22" >up</text>
<text x="233.5" y="154.6" font-size="7.6" text-anchor="start" font-weight="normal" fill="#404c70" font-family="'Liberation Sans', Arial, sans-serif" >e<tspan font-size="4.4" dy="-3.0">-</tspan></text>
<text x="267.7" y="160.6" font-size="7.6" text-anchor="start" font-weight="normal" fill="#404c70" font-family="'Liberation Sans', Arial, sans-serif" >e<tspan font-size="4.4" dy="-3.0">-</tspan></text>
<text x="233.6" y="185.5" font-size="7.6" text-anchor="start" font-weight="normal" fill="#404c70" font-family="'Liberation Sans', Arial, sans-serif" >e<tspan font-size="4.4" dy="-3.0">-</tspan></text>
<text x="219.9" y="193.2" font-size="7.6" text-anchor="start" font-weight="normal" fill="#404c70" font-family="'Liberation Sans', Arial, sans-serif" >e<tspan font-size="4.4" dy="-3.0">-</tspan></text>
<text x="228.9" y="193.2" font-size="7.6" text-anchor="start" font-weight="normal" fill="#404c70" font-family="'Liberation Sans', Arial, sans-serif" >e<tspan font-size="4.4" dy="-3.0">-</tspan></text>
<text x="270.4" y="148.6" font-size="7.4" text-anchor="middle" font-weight="bold" fill="#000" font-family="'Liberation Sans', Arial, sans-serif" stroke="#000" stroke-width="0.22" >UP</text>
<text x="233.3" y="207.6" font-size="7.6" text-anchor="middle" font-weight="bold" fill="#000" font-family="'Liberation Sans', Arial, sans-serif" stroke="#000" stroke-width="0.22" >TiN</text>
<text x="308.2" y="207.4" font-size="8.0" text-anchor="middle" font-weight="bold" fill="#000" font-family="'Liberation Sans', Arial, sans-serif" stroke="#000" stroke-width="0.22" >Ti</text>
<text x="233.7" y="261.2" font-size="7.5" text-anchor="middle" font-weight="bold" fill="#000" font-family="'Liberation Sans', Arial, sans-serif" stroke="#000" stroke-width="0.22" >Bottom</text>
<text x="270.6" y="253.1" font-size="7.4" text-anchor="middle" font-weight="bold" fill="#000" font-family="'Liberation Sans', Arial, sans-serif" stroke="#000" stroke-width="0.22" >HAO</text>
<text x="308.3" y="263.7" font-size="7.6" text-anchor="middle" font-weight="bold" fill="#000" font-family="'Liberation Sans', Arial, sans-serif" stroke="#000" stroke-width="0.22" >Top</text>
<text x="172.2" y="144" font-size="13.5" text-anchor="start" font-weight="bold" fill="#000" font-family="'Liberation Serif', 'Times New Roman', serif" >(e)</text>
<rect x="370.2" y="211.2" width="33.2" height="34" fill="url(#gtin)"/>
<rect x="443.8" y="169" width="34.5" height="34" fill="url(#gti)"/>
<polygon points="403.4,177.8 443.8,157.6 443.8,235.3 403.4,252" fill="#cde5b5"/>
<line x1="403.4" y1="154" x2="403.4" y2="272" stroke="#5e5e5e" stroke-width="0.9" stroke-dasharray="1,1"/>
<line x1="443.8" y1="154" x2="443.8" y2="272" stroke="#5e5e5e" stroke-width="0.9" stroke-dasharray="1,1"/>
<polygon points="436.4,181.4 418.4,181.4 418.4,178.9 411.2,185.2 418.4,191.5 418.4,189 436.4,189" fill="#f01010"/>
<polygon points="436.4,200.2 418.4,200.2 418.4,197.7 411.2,204 418.4,210.3 418.4,207.8 436.4,207.8" fill="#f01010"/>
<polygon points="436.4,219.2 418.4,219.2 418.4,216.7 411.2,223 418.4,229.3 418.4,226.8 436.4,226.8" fill="#f01010"/>
<path d="M465.8,159.5 C466.2,141 439,140 436,152.5" fill="none" stroke="url(#garc2)" stroke-width="3.0"/>
<polygon points="432.4,157.4 432.2,151.0 439.2,152.4" fill="#4f84c4"/>
<line x1="444.2" y1="157.6" x2="451.6" y2="157.6" stroke="#2a2a2a" stroke-width="1.1" />
<line x1="448.2" y1="157.6" x2="448.2" y2="166" stroke="#2a2a2a" stroke-width="0.9" />
<polygon points="448.2,169.2 446.8,165.3 449.6,165.3" fill="#2a2a2a"/>
<text x="451.8" y="166.2" font-size="9.0" text-anchor="start" font-weight="bold" fill="#000" font-family="'Liberation Sans', Arial, sans-serif" >Δφ</text>
<text x="464.2" y="168.4" font-size="6.1" text-anchor="start" font-weight="bold" fill="#000" font-family="'Liberation Sans', Arial, sans-serif" stroke="#000" stroke-width="0.22" >down</text>
<text x="420.1" y="160.5" font-size="7.6" text-anchor="start" font-weight="normal" fill="#404c70" font-family="'Liberation Sans', Arial, sans-serif" >e<tspan font-size="4.4" dy="-3.0">-</tspan></text>
<text x="453.4" y="174.9" font-size="7.6" text-anchor="start" font-weight="normal" fill="#404c70" font-family="'Liberation Sans', Arial, sans-serif" >e<tspan font-size="4.4" dy="-3.0">-</tspan></text>
<text x="464.9" y="178.2" font-size="7.6" text-anchor="start" font-weight="normal" fill="#404c70" font-family="'Liberation Sans', Arial, sans-serif" >e<tspan font-size="4.4" dy="-3.0">-</tspan></text>
<text x="423.8" y="149.2" font-size="7.4" text-anchor="middle" font-weight="bold" fill="#000" font-family="'Liberation Sans', Arial, sans-serif" stroke="#000" stroke-width="0.22" >DOWN</text>
<text x="387.7" y="222" font-size="7.6" text-anchor="middle" font-weight="bold" fill="#000" font-family="'Liberation Sans', Arial, sans-serif" stroke="#000" stroke-width="0.22" >TiN</text>
<text x="460.5" y="207.8" font-size="8.0" text-anchor="middle" font-weight="bold" fill="#000" font-family="'Liberation Sans', Arial, sans-serif" stroke="#000" stroke-width="0.22" >Ti</text>
<text x="387.7" y="265" font-size="7.5" text-anchor="middle" font-weight="bold" fill="#000" font-family="'Liberation Sans', Arial, sans-serif" stroke="#000" stroke-width="0.22" >Bottom</text>
<text x="424.2" y="253.2" font-size="7.4" text-anchor="middle" font-weight="bold" fill="#000" font-family="'Liberation Sans', Arial, sans-serif" stroke="#000" stroke-width="0.22" >HAO</text>
<text x="461.1" y="266.1" font-size="7.6" text-anchor="middle" font-weight="bold" fill="#000" font-family="'Liberation Sans', Arial, sans-serif" stroke="#000" stroke-width="0.22" >Top</text>
<text x="335.9" y="144.6" font-size="13.5" text-anchor="start" font-weight="bold" fill="#000" font-family="'Liberation Serif', 'Times New Roman', serif" >(f)</text>
</svg>
</body></html>
